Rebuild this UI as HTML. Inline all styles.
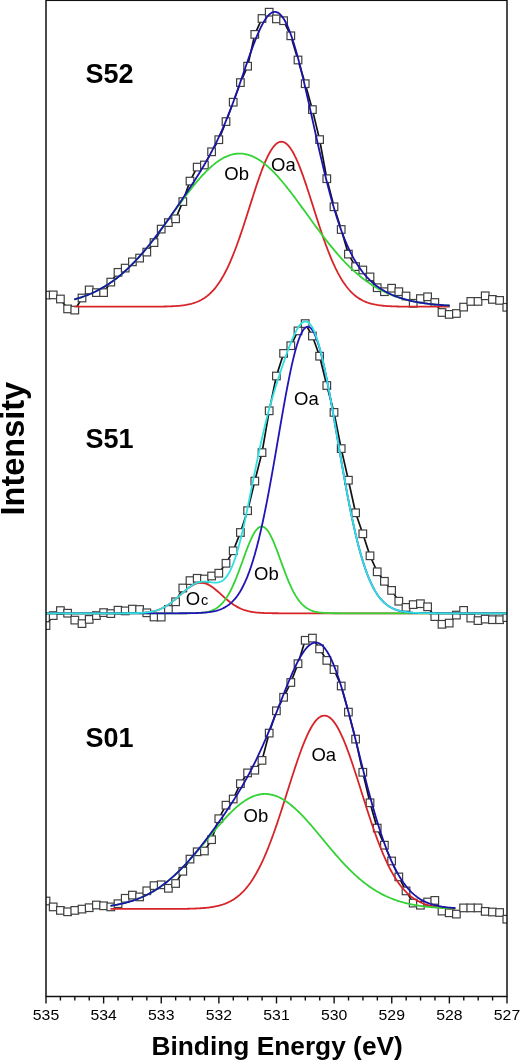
<!DOCTYPE html>
<html><head><meta charset="utf-8"><style>
html,body{margin:0;padding:0;background:#fff;}
svg{display:block;}
.tl{font-family:"Liberation Sans",Arial,sans-serif;font-size:15.2px;fill:#000;}
.lab{font-family:"Liberation Sans",Arial,sans-serif;font-size:18.5px;fill:#000;}
.big{font-family:"Liberation Sans",Arial,sans-serif;font-size:27px;font-weight:bold;fill:#000;}
.ttl{font-family:"Liberation Sans",Arial,sans-serif;font-size:26.3px;font-weight:bold;fill:#000;}
.ttl2{font-family:"Liberation Sans",Arial,sans-serif;font-size:32.5px;font-weight:bold;fill:#000;}
</style></head><body>
<svg width="520" height="1061" viewBox="0 0 520 1061">
<rect width="520" height="1061" fill="#fff"/>
<defs><clipPath id="pc"><rect x="46" y="0" width="461" height="996.5"/></clipPath></defs>
<g clip-path="url(#pc)">
<path d="M46.00,295.10 L53.20,294.90 L60.40,299.00 L67.60,308.90 L74.80,310.10 L82.00,298.00 L89.20,289.90 L96.40,292.60 L103.60,292.60 L110.80,282.10 L118.00,272.35 L125.20,268.10 L132.40,261.85 L139.60,258.10 L146.80,252.10 L154.00,242.60 L161.20,229.10 L168.40,222.60 L175.60,218.80 L182.80,201.60 L190.00,181.10 L197.20,167.10 L204.40,165.00 L211.60,151.80 L218.80,139.70 L226.00,121.60 L233.20,102.20 L240.40,82.60 L247.60,66.20 L254.80,34.40 L262.00,18.50 L269.20,12.20 L276.40,18.90 L283.60,20.70 L290.80,35.80 L298.00,60.00 L305.20,83.70 L312.40,109.60 L319.60,139.60 L326.80,178.70 L334.00,206.80 L341.20,229.50 L348.40,254.10 L355.60,266.60 L362.80,270.00 L370.00,276.90 L377.20,287.70 L384.40,291.70 L391.60,288.20 L398.80,291.70 L406.00,296.00 L413.20,303.30 L420.40,298.60 L427.60,296.80 L434.80,302.50 L442.00,312.50 L449.20,314.40 L456.40,313.50 L463.60,307.10 L470.80,301.40 L478.00,301.40 L485.20,295.80 L492.40,299.40 L499.60,300.40 L506.80,307.30" fill="none" stroke="#111" stroke-width="1.7"/>
<rect x="42.20" y="291.30" width="7.6" height="7.6" fill="#fff" stroke="#404040" stroke-width="1.2"/>
<rect x="49.40" y="291.10" width="7.6" height="7.6" fill="#fff" stroke="#404040" stroke-width="1.2"/>
<rect x="56.60" y="295.20" width="7.6" height="7.6" fill="#fff" stroke="#404040" stroke-width="1.2"/>
<rect x="63.80" y="305.10" width="7.6" height="7.6" fill="#fff" stroke="#404040" stroke-width="1.2"/>
<rect x="71.00" y="306.30" width="7.6" height="7.6" fill="#fff" stroke="#404040" stroke-width="1.2"/>
<rect x="78.20" y="294.20" width="7.6" height="7.6" fill="#fff" stroke="#404040" stroke-width="1.2"/>
<rect x="85.40" y="286.10" width="7.6" height="7.6" fill="#fff" stroke="#404040" stroke-width="1.2"/>
<rect x="92.60" y="288.80" width="7.6" height="7.6" fill="#fff" stroke="#404040" stroke-width="1.2"/>
<rect x="99.80" y="288.80" width="7.6" height="7.6" fill="#fff" stroke="#404040" stroke-width="1.2"/>
<rect x="107.00" y="278.30" width="7.6" height="7.6" fill="#fff" stroke="#404040" stroke-width="1.2"/>
<rect x="114.20" y="268.55" width="7.6" height="7.6" fill="#fff" stroke="#404040" stroke-width="1.2"/>
<rect x="121.40" y="264.30" width="7.6" height="7.6" fill="#fff" stroke="#404040" stroke-width="1.2"/>
<rect x="128.60" y="258.05" width="7.6" height="7.6" fill="#fff" stroke="#404040" stroke-width="1.2"/>
<rect x="135.80" y="254.30" width="7.6" height="7.6" fill="#fff" stroke="#404040" stroke-width="1.2"/>
<rect x="143.00" y="248.30" width="7.6" height="7.6" fill="#fff" stroke="#404040" stroke-width="1.2"/>
<rect x="150.20" y="238.80" width="7.6" height="7.6" fill="#fff" stroke="#404040" stroke-width="1.2"/>
<rect x="157.40" y="225.30" width="7.6" height="7.6" fill="#fff" stroke="#404040" stroke-width="1.2"/>
<rect x="164.60" y="218.80" width="7.6" height="7.6" fill="#fff" stroke="#404040" stroke-width="1.2"/>
<rect x="171.80" y="215.00" width="7.6" height="7.6" fill="#fff" stroke="#404040" stroke-width="1.2"/>
<rect x="179.00" y="197.80" width="7.6" height="7.6" fill="#fff" stroke="#404040" stroke-width="1.2"/>
<rect x="186.20" y="177.30" width="7.6" height="7.6" fill="#fff" stroke="#404040" stroke-width="1.2"/>
<rect x="193.40" y="163.30" width="7.6" height="7.6" fill="#fff" stroke="#404040" stroke-width="1.2"/>
<rect x="200.60" y="161.20" width="7.6" height="7.6" fill="#fff" stroke="#404040" stroke-width="1.2"/>
<rect x="207.80" y="148.00" width="7.6" height="7.6" fill="#fff" stroke="#404040" stroke-width="1.2"/>
<rect x="215.00" y="135.90" width="7.6" height="7.6" fill="#fff" stroke="#404040" stroke-width="1.2"/>
<rect x="222.20" y="117.80" width="7.6" height="7.6" fill="#fff" stroke="#404040" stroke-width="1.2"/>
<rect x="229.40" y="98.40" width="7.6" height="7.6" fill="#fff" stroke="#404040" stroke-width="1.2"/>
<rect x="236.60" y="78.80" width="7.6" height="7.6" fill="#fff" stroke="#404040" stroke-width="1.2"/>
<rect x="243.80" y="62.40" width="7.6" height="7.6" fill="#fff" stroke="#404040" stroke-width="1.2"/>
<rect x="251.00" y="30.60" width="7.6" height="7.6" fill="#fff" stroke="#404040" stroke-width="1.2"/>
<rect x="258.20" y="14.70" width="7.6" height="7.6" fill="#fff" stroke="#404040" stroke-width="1.2"/>
<rect x="265.40" y="8.40" width="7.6" height="7.6" fill="#fff" stroke="#404040" stroke-width="1.2"/>
<rect x="272.60" y="15.10" width="7.6" height="7.6" fill="#fff" stroke="#404040" stroke-width="1.2"/>
<rect x="279.80" y="16.90" width="7.6" height="7.6" fill="#fff" stroke="#404040" stroke-width="1.2"/>
<rect x="287.00" y="32.00" width="7.6" height="7.6" fill="#fff" stroke="#404040" stroke-width="1.2"/>
<rect x="294.20" y="56.20" width="7.6" height="7.6" fill="#fff" stroke="#404040" stroke-width="1.2"/>
<rect x="301.40" y="79.90" width="7.6" height="7.6" fill="#fff" stroke="#404040" stroke-width="1.2"/>
<rect x="308.60" y="105.80" width="7.6" height="7.6" fill="#fff" stroke="#404040" stroke-width="1.2"/>
<rect x="315.80" y="135.80" width="7.6" height="7.6" fill="#fff" stroke="#404040" stroke-width="1.2"/>
<rect x="323.00" y="174.90" width="7.6" height="7.6" fill="#fff" stroke="#404040" stroke-width="1.2"/>
<rect x="330.20" y="203.00" width="7.6" height="7.6" fill="#fff" stroke="#404040" stroke-width="1.2"/>
<rect x="337.40" y="225.70" width="7.6" height="7.6" fill="#fff" stroke="#404040" stroke-width="1.2"/>
<rect x="344.60" y="250.30" width="7.6" height="7.6" fill="#fff" stroke="#404040" stroke-width="1.2"/>
<rect x="351.80" y="262.80" width="7.6" height="7.6" fill="#fff" stroke="#404040" stroke-width="1.2"/>
<rect x="359.00" y="266.20" width="7.6" height="7.6" fill="#fff" stroke="#404040" stroke-width="1.2"/>
<rect x="366.20" y="273.10" width="7.6" height="7.6" fill="#fff" stroke="#404040" stroke-width="1.2"/>
<rect x="373.40" y="283.90" width="7.6" height="7.6" fill="#fff" stroke="#404040" stroke-width="1.2"/>
<rect x="380.60" y="287.90" width="7.6" height="7.6" fill="#fff" stroke="#404040" stroke-width="1.2"/>
<rect x="387.80" y="284.40" width="7.6" height="7.6" fill="#fff" stroke="#404040" stroke-width="1.2"/>
<rect x="395.00" y="287.90" width="7.6" height="7.6" fill="#fff" stroke="#404040" stroke-width="1.2"/>
<rect x="402.20" y="292.20" width="7.6" height="7.6" fill="#fff" stroke="#404040" stroke-width="1.2"/>
<rect x="409.40" y="299.50" width="7.6" height="7.6" fill="#fff" stroke="#404040" stroke-width="1.2"/>
<rect x="416.60" y="294.80" width="7.6" height="7.6" fill="#fff" stroke="#404040" stroke-width="1.2"/>
<rect x="423.80" y="293.00" width="7.6" height="7.6" fill="#fff" stroke="#404040" stroke-width="1.2"/>
<rect x="431.00" y="298.70" width="7.6" height="7.6" fill="#fff" stroke="#404040" stroke-width="1.2"/>
<rect x="438.20" y="308.70" width="7.6" height="7.6" fill="#fff" stroke="#404040" stroke-width="1.2"/>
<rect x="445.40" y="310.60" width="7.6" height="7.6" fill="#fff" stroke="#404040" stroke-width="1.2"/>
<rect x="452.60" y="309.70" width="7.6" height="7.6" fill="#fff" stroke="#404040" stroke-width="1.2"/>
<rect x="459.80" y="303.30" width="7.6" height="7.6" fill="#fff" stroke="#404040" stroke-width="1.2"/>
<rect x="467.00" y="297.60" width="7.6" height="7.6" fill="#fff" stroke="#404040" stroke-width="1.2"/>
<rect x="474.20" y="297.60" width="7.6" height="7.6" fill="#fff" stroke="#404040" stroke-width="1.2"/>
<rect x="481.40" y="292.00" width="7.6" height="7.6" fill="#fff" stroke="#404040" stroke-width="1.2"/>
<rect x="488.60" y="295.60" width="7.6" height="7.6" fill="#fff" stroke="#404040" stroke-width="1.2"/>
<rect x="495.80" y="296.60" width="7.6" height="7.6" fill="#fff" stroke="#404040" stroke-width="1.2"/>
<rect x="503.00" y="303.50" width="7.6" height="7.6" fill="#fff" stroke="#404040" stroke-width="1.2"/>
<path d="M74.25,306.70 L75.51,306.70 L76.76,306.70 L78.02,306.70 L79.27,306.70 L80.53,306.70 L81.79,306.70 L83.04,306.70 L84.30,306.70 L85.55,306.70 L86.81,306.70 L88.07,306.70 L89.32,306.70 L90.58,306.70 L91.83,306.70 L93.09,306.70 L94.35,306.70 L95.60,306.70 L96.86,306.70 L98.11,306.70 L99.37,306.70 L100.63,306.70 L101.88,306.70 L103.14,306.70 L104.39,306.70 L105.65,306.70 L106.91,306.70 L108.16,306.70 L109.42,306.70 L110.67,306.70 L111.93,306.70 L113.19,306.70 L114.44,306.70 L115.70,306.70 L116.95,306.70 L118.21,306.70 L119.47,306.70 L120.72,306.70 L121.98,306.70 L123.23,306.70 L124.49,306.70 L125.75,306.70 L127.00,306.70 L128.26,306.70 L129.51,306.70 L130.77,306.70 L132.03,306.70 L133.28,306.70 L134.54,306.70 L135.79,306.70 L137.05,306.69 L138.31,306.69 L139.56,306.69 L140.82,306.69 L142.08,306.69 L143.33,306.69 L144.59,306.68 L145.84,306.68 L147.10,306.68 L148.36,306.67 L149.61,306.67 L150.87,306.67 L152.12,306.66 L153.38,306.65 L154.64,306.64 L155.89,306.63 L157.15,306.62 L158.40,306.61 L159.66,306.60 L160.92,306.58 L162.17,306.56 L163.43,306.54 L164.68,306.51 L165.94,306.48 L167.20,306.45 L168.45,306.41 L169.71,306.36 L170.96,306.31 L172.22,306.26 L173.48,306.19 L174.73,306.12 L175.99,306.04 L177.24,305.95 L178.50,305.84 L179.76,305.73 L181.01,305.59 L182.27,305.45 L183.52,305.28 L184.78,305.10 L186.04,304.90 L187.29,304.67 L188.55,304.42 L189.80,304.14 L191.06,303.84 L192.32,303.50 L193.57,303.12 L194.83,302.71 L196.08,302.26 L197.34,301.77 L198.60,301.23 L199.85,300.64 L201.11,299.99 L202.36,299.29 L203.62,298.53 L204.88,297.70 L206.13,296.81 L207.39,295.84 L208.64,294.80 L209.90,293.68 L211.16,292.48 L212.41,291.19 L213.67,289.81 L214.92,288.33 L216.18,286.76 L217.44,285.08 L218.69,283.31 L219.95,281.42 L221.20,279.43 L222.46,277.33 L223.72,275.11 L224.97,272.78 L226.23,270.33 L227.48,267.77 L228.74,265.09 L230.00,262.30 L231.25,259.40 L232.51,256.38 L233.76,253.26 L235.02,250.03 L236.28,246.70 L237.53,243.28 L238.79,239.76 L240.04,236.16 L241.30,232.48 L242.56,228.74 L243.81,224.93 L245.07,221.07 L246.32,217.17 L247.58,213.23 L248.84,209.28 L250.09,205.32 L251.35,201.36 L252.60,197.42 L253.86,193.51 L255.12,189.65 L256.37,185.84 L257.63,182.10 L258.88,178.45 L260.14,174.90 L261.40,171.46 L262.65,168.15 L263.91,164.98 L265.17,161.97 L266.42,159.12 L267.68,156.45 L268.93,153.98 L270.19,151.70 L271.45,149.64 L272.70,147.80 L273.96,146.19 L275.21,144.82 L276.47,143.69 L277.73,142.81 L278.98,142.18 L280.24,141.81 L281.49,141.70 L282.75,141.85 L284.01,142.25 L285.26,142.91 L286.52,143.82 L287.77,144.98 L289.03,146.39 L290.29,148.03 L291.54,149.90 L292.80,151.99 L294.05,154.29 L295.31,156.80 L296.57,159.49 L297.82,162.36 L299.08,165.39 L300.33,168.58 L301.59,171.91 L302.85,175.36 L304.10,178.93 L305.36,182.59 L306.61,186.34 L307.87,190.16 L309.13,194.03 L310.38,197.95 L311.64,201.89 L312.89,205.85 L314.15,209.81 L315.41,213.76 L316.66,217.69 L317.92,221.58 L319.17,225.44 L320.43,229.24 L321.69,232.98 L322.94,236.64 L324.20,240.23 L325.45,243.74 L326.71,247.15 L327.97,250.47 L329.22,253.68 L330.48,256.79 L331.73,259.79 L332.99,262.68 L334.25,265.45 L335.50,268.12 L336.76,270.66 L338.01,273.09 L339.27,275.41 L340.53,277.61 L341.78,279.70 L343.04,281.68 L344.29,283.55 L345.55,285.31 L346.81,286.97 L348.06,288.53 L349.32,289.99 L350.57,291.36 L351.83,292.64 L353.09,293.83 L354.34,294.94 L355.60,295.98 L356.85,296.93 L358.11,297.82 L359.37,298.63 L360.62,299.39 L361.88,300.08 L363.13,300.72 L364.39,301.30 L365.65,301.84 L366.90,302.32 L368.16,302.77 L369.41,303.18 L370.67,303.54 L371.93,303.88 L373.18,304.18 L374.44,304.46 L375.69,304.70 L376.95,304.93 L378.21,305.13 L379.46,305.31 L380.72,305.47 L381.97,305.61 L383.23,305.74 L384.49,305.86 L385.74,305.96 L387.00,306.05 L388.26,306.13 L389.51,306.20 L390.77,306.27 L392.02,306.32 L393.28,306.37 L394.54,306.41 L395.79,306.45 L397.05,306.48 L398.30,306.51 L399.56,306.54 L400.82,306.56 L402.07,306.58 L403.33,306.60 L404.58,306.61 L405.84,306.62 L407.10,306.64 L408.35,306.64 L409.61,306.65 L410.86,306.66 L412.12,306.67 L413.38,306.67 L414.63,306.68 L415.89,306.68 L417.14,306.68 L418.40,306.69 L419.66,306.69 L420.91,306.69 L422.17,306.69 L423.42,306.69 L424.68,306.69 L425.94,306.69 L427.19,306.70 L428.45,306.70 L429.70,306.70 L430.96,306.70 L432.22,306.70 L433.47,306.70 L434.73,306.70 L435.98,306.70 L437.24,306.70 L438.50,306.70 L439.75,306.70 L441.01,306.70 L442.26,306.70 L443.52,306.70 L444.78,306.70 L446.03,306.70 L447.29,306.70 L448.54,306.70 L449.80,306.70" fill="none" stroke="#d62428" stroke-width="1.8" stroke-linejoin="round" stroke-linecap="butt" />
<path d="M74.25,299.38 L75.51,299.04 L76.76,298.68 L78.02,298.31 L79.27,297.92 L80.53,297.52 L81.79,297.10 L83.04,296.67 L84.30,296.23 L85.55,295.76 L86.81,295.29 L88.07,294.79 L89.32,294.28 L90.58,293.75 L91.83,293.20 L93.09,292.63 L94.35,292.05 L95.60,291.44 L96.86,290.82 L98.11,290.17 L99.37,289.51 L100.63,288.83 L101.88,288.12 L103.14,287.40 L104.39,286.65 L105.65,285.88 L106.91,285.09 L108.16,284.28 L109.42,283.45 L110.67,282.59 L111.93,281.71 L113.19,280.81 L114.44,279.88 L115.70,278.93 L116.95,277.96 L118.21,276.96 L119.47,275.94 L120.72,274.89 L121.98,273.83 L123.23,272.73 L124.49,271.62 L125.75,270.48 L127.00,269.31 L128.26,268.12 L129.51,266.91 L130.77,265.68 L132.03,264.42 L133.28,263.13 L134.54,261.83 L135.79,260.50 L137.05,259.15 L138.31,257.78 L139.56,256.38 L140.82,254.96 L142.08,253.52 L143.33,252.06 L144.59,250.59 L145.84,249.09 L147.10,247.57 L148.36,246.03 L149.61,244.47 L150.87,242.90 L152.12,241.31 L153.38,239.70 L154.64,238.08 L155.89,236.45 L157.15,234.80 L158.40,233.13 L159.66,231.46 L160.92,229.77 L162.17,228.08 L163.43,226.37 L164.68,224.66 L165.94,222.94 L167.20,221.21 L168.45,219.48 L169.71,217.74 L170.96,216.01 L172.22,214.27 L173.48,212.53 L174.73,210.79 L175.99,209.05 L177.24,207.32 L178.50,205.59 L179.76,203.86 L181.01,202.15 L182.27,200.44 L183.52,198.75 L184.78,197.06 L186.04,195.39 L187.29,193.73 L188.55,192.09 L189.80,190.46 L191.06,188.85 L192.32,187.27 L193.57,185.70 L194.83,184.15 L196.08,182.63 L197.34,181.14 L198.60,179.67 L199.85,178.23 L201.11,176.82 L202.36,175.44 L203.62,174.09 L204.88,172.77 L206.13,171.49 L207.39,170.24 L208.64,169.04 L209.90,167.86 L211.16,166.73 L212.41,165.64 L213.67,164.59 L214.92,163.58 L216.18,162.62 L217.44,161.70 L218.69,160.83 L219.95,160.00 L221.20,159.22 L222.46,158.48 L223.72,157.80 L224.97,157.16 L226.23,156.58 L227.48,156.04 L228.74,155.56 L230.00,155.13 L231.25,154.75 L232.51,154.42 L233.76,154.15 L235.02,153.92 L236.28,153.76 L237.53,153.64 L238.79,153.58 L240.04,153.57 L241.30,153.62 L242.56,153.72 L243.81,153.87 L245.07,154.08 L246.32,154.34 L247.58,154.66 L248.84,155.02 L250.09,155.44 L251.35,155.91 L252.60,156.43 L253.86,157.01 L255.12,157.63 L256.37,158.30 L257.63,159.02 L258.88,159.79 L260.14,160.61 L261.40,161.47 L262.65,162.38 L263.91,163.33 L265.17,164.33 L266.42,165.36 L267.68,166.45 L268.93,167.57 L270.19,168.73 L271.45,169.93 L272.70,171.16 L273.96,172.44 L275.21,173.74 L276.47,175.08 L277.73,176.46 L278.98,177.86 L280.24,179.29 L281.49,180.75 L282.75,182.24 L284.01,183.76 L285.26,185.30 L286.52,186.86 L287.77,188.44 L289.03,190.04 L290.29,191.66 L291.54,193.30 L292.80,194.96 L294.05,196.62 L295.31,198.31 L296.57,200.00 L297.82,201.70 L299.08,203.42 L300.33,205.14 L301.59,206.87 L302.85,208.60 L304.10,210.33 L305.36,212.07 L306.61,213.81 L307.87,215.55 L309.13,217.29 L310.38,219.03 L311.64,220.76 L312.89,222.49 L314.15,224.21 L315.41,225.93 L316.66,227.63 L317.92,229.33 L319.17,231.02 L320.43,232.70 L321.69,234.37 L322.94,236.02 L324.20,237.66 L325.45,239.28 L326.71,240.89 L327.97,242.49 L329.22,244.07 L330.48,245.63 L331.73,247.17 L332.99,248.69 L334.25,250.20 L335.50,251.68 L336.76,253.15 L338.01,254.59 L339.27,256.01 L340.53,257.41 L341.78,258.79 L343.04,260.15 L344.29,261.49 L345.55,262.80 L346.81,264.09 L348.06,265.35 L349.32,266.59 L350.57,267.81 L351.83,269.01 L353.09,270.18 L354.34,271.32 L355.60,272.45 L356.85,273.54 L358.11,274.62 L359.37,275.67 L360.62,276.70 L361.88,277.70 L363.13,278.68 L364.39,279.63 L365.65,280.57 L366.90,281.48 L368.16,282.36 L369.41,283.23 L370.67,284.07 L371.93,284.88 L373.18,285.68 L374.44,286.45 L375.69,287.21 L376.95,287.94 L378.21,288.65 L379.46,289.34 L380.72,290.00 L381.97,290.65 L383.23,291.28 L384.49,291.89 L385.74,292.48 L387.00,293.05 L388.26,293.61 L389.51,294.14 L390.77,294.66 L392.02,295.16 L393.28,295.64 L394.54,296.11 L395.79,296.56 L397.05,296.99 L398.30,297.41 L399.56,297.82 L400.82,298.21 L402.07,298.58 L403.33,298.95 L404.58,299.29 L405.84,299.63 L407.10,299.95 L408.35,300.26 L409.61,300.56 L410.86,300.84 L412.12,301.12 L413.38,301.38 L414.63,301.64 L415.89,301.88 L417.14,302.11 L418.40,302.33 L419.66,302.55 L420.91,302.75 L422.17,302.95 L423.42,303.13 L424.68,303.31 L425.94,303.49 L427.19,303.65 L428.45,303.81 L429.70,303.95 L430.96,304.10 L432.22,304.23 L433.47,304.36 L434.73,304.49 L435.98,304.60 L437.24,304.72 L438.50,304.82 L439.75,304.93 L441.01,305.02 L442.26,305.11 L443.52,305.20 L444.78,305.29 L446.03,305.36 L447.29,305.44 L448.54,305.51 L449.80,305.58" fill="none" stroke="#34d234" stroke-width="1.8" stroke-linejoin="round" stroke-linecap="butt" />
<path d="M74.25,299.38 L75.51,299.04 L76.76,298.68 L78.02,298.31 L79.27,297.92 L80.53,297.52 L81.79,297.10 L83.04,296.67 L84.30,296.23 L85.55,295.76 L86.81,295.29 L88.07,294.79 L89.32,294.28 L90.58,293.75 L91.83,293.20 L93.09,292.63 L94.35,292.05 L95.60,291.44 L96.86,290.82 L98.11,290.17 L99.37,289.51 L100.63,288.83 L101.88,288.12 L103.14,287.40 L104.39,286.65 L105.65,285.88 L106.91,285.09 L108.16,284.28 L109.42,283.45 L110.67,282.59 L111.93,281.71 L113.19,280.81 L114.44,279.88 L115.70,278.93 L116.95,277.96 L118.21,276.96 L119.47,275.94 L120.72,274.89 L121.98,273.83 L123.23,272.73 L124.49,271.62 L125.75,270.48 L127.00,269.31 L128.26,268.12 L129.51,266.91 L130.77,265.67 L132.03,264.41 L133.28,263.13 L134.54,261.83 L135.79,260.50 L137.05,259.14 L138.31,257.77 L139.56,256.37 L140.82,254.95 L142.08,253.51 L143.33,252.05 L144.59,250.57 L145.84,249.07 L147.10,247.55 L148.36,246.00 L149.61,244.44 L150.87,242.87 L152.12,241.27 L153.38,239.66 L154.64,238.03 L155.89,236.38 L157.15,234.72 L158.40,233.04 L159.66,231.35 L160.92,229.65 L162.17,227.94 L163.43,226.21 L164.68,224.47 L165.94,222.72 L167.20,220.96 L168.45,219.19 L169.71,217.41 L170.96,215.62 L172.22,213.82 L173.48,212.02 L174.73,210.21 L175.99,208.39 L177.24,206.56 L178.50,204.73 L179.76,202.89 L181.01,201.04 L182.27,199.19 L183.52,197.33 L184.78,195.46 L186.04,193.59 L187.29,191.70 L188.55,189.81 L189.80,187.91 L191.06,185.99 L192.32,184.06 L193.57,182.12 L194.83,180.17 L196.08,178.20 L197.34,176.21 L198.60,174.20 L199.85,172.16 L201.11,170.11 L202.36,168.03 L203.62,165.92 L204.88,163.77 L206.13,161.60 L207.39,159.39 L208.64,157.14 L209.90,154.85 L211.16,152.51 L212.41,150.13 L213.67,147.70 L214.92,145.21 L216.18,142.68 L217.44,140.08 L218.69,137.43 L219.95,134.72 L221.20,131.94 L222.46,129.11 L223.72,126.21 L224.97,123.24 L226.23,120.21 L227.48,117.11 L228.74,113.95 L230.00,110.73 L231.25,107.45 L232.51,104.10 L233.76,100.71 L235.02,97.26 L236.28,93.76 L237.53,90.22 L238.79,86.64 L240.04,83.03 L241.30,79.40 L242.56,75.76 L243.81,72.10 L245.07,68.45 L246.32,64.81 L247.58,61.19 L248.84,57.60 L250.09,54.06 L251.35,50.58 L252.60,47.16 L253.86,43.82 L255.12,40.58 L256.37,37.44 L257.63,34.42 L258.88,31.54 L260.14,28.81 L261.40,26.23 L262.65,23.83 L263.91,21.61 L265.17,19.59 L266.42,17.78 L267.68,16.20 L268.93,14.84 L270.19,13.73 L271.45,12.87 L272.70,12.26 L273.96,11.92 L275.21,11.86 L276.47,12.07 L277.73,12.56 L278.98,13.34 L280.24,14.41 L281.49,15.75 L282.75,17.39 L284.01,19.31 L285.26,21.51 L286.52,23.98 L287.77,26.72 L289.03,29.73 L290.29,32.99 L291.54,36.50 L292.80,40.25 L294.05,44.22 L295.31,48.40 L296.57,52.79 L297.82,57.36 L299.08,62.11 L300.33,67.02 L301.59,72.08 L302.85,77.26 L304.10,82.57 L305.36,87.97 L306.61,93.45 L307.87,99.01 L309.13,104.62 L310.38,110.27 L311.64,115.95 L312.89,121.64 L314.15,127.32 L315.41,132.98 L316.66,138.62 L317.92,144.22 L319.17,149.76 L320.43,155.24 L321.69,160.64 L322.94,165.96 L324.20,171.19 L325.45,176.32 L326.71,181.34 L327.97,186.25 L329.22,191.05 L330.48,195.72 L331.73,200.26 L332.99,204.67 L334.25,208.95 L335.50,213.10 L336.76,217.11 L338.01,220.98 L339.27,224.72 L340.53,228.33 L341.78,231.79 L343.04,235.13 L344.29,238.33 L345.55,241.41 L346.81,244.36 L348.06,247.18 L349.32,249.89 L350.57,252.47 L351.83,254.95 L353.09,257.31 L354.34,259.57 L355.60,261.72 L356.85,263.78 L358.11,265.73 L359.37,267.60 L360.62,269.38 L361.88,271.08 L363.13,272.70 L364.39,274.24 L365.65,275.70 L366.90,277.10 L368.16,278.43 L369.41,279.70 L370.67,280.91 L371.93,282.06 L373.18,283.16 L374.44,284.21 L375.69,285.21 L376.95,286.16 L378.21,287.07 L379.46,287.94 L380.72,288.77 L381.97,289.57 L383.23,290.32 L384.49,291.05 L385.74,291.74 L387.00,292.40 L388.26,293.04 L389.51,293.64 L390.77,294.22 L392.02,294.78 L393.28,295.31 L394.54,295.82 L395.79,296.31 L397.05,296.78 L398.30,297.23 L399.56,297.66 L400.82,298.07 L402.07,298.46 L403.33,298.84 L404.58,299.21 L405.84,299.55 L407.10,299.89 L408.35,300.21 L409.61,300.51 L410.86,300.80 L412.12,301.08 L413.38,301.35 L414.63,301.61 L415.89,301.86 L417.14,302.09 L418.40,302.32 L419.66,302.53 L420.91,302.74 L422.17,302.94 L423.42,303.13 L424.68,303.31 L425.94,303.48 L427.19,303.64 L428.45,303.80 L429.70,303.95 L430.96,304.09 L432.22,304.23 L433.47,304.36 L434.73,304.49 L435.98,304.60 L437.24,304.72 L438.50,304.82 L439.75,304.92 L441.01,305.02 L442.26,305.11 L443.52,305.20 L444.78,305.28 L446.03,305.36 L447.29,305.44 L448.54,305.51 L449.80,305.58" fill="none" stroke="#1c14a8" stroke-width="1.8" stroke-linejoin="round" stroke-linecap="butt" />
<path d="M46.00,625.60 L53.20,615.60 L60.40,610.60 L67.60,613.20 L74.80,620.10 L82.00,623.60 L89.20,619.40 L96.40,615.60 L103.60,612.60 L110.80,613.60 L118.00,610.20 L125.20,610.90 L132.40,609.10 L139.60,609.50 L146.80,612.80 L154.00,617.00 L161.20,617.10 L168.40,609.40 L175.60,601.80 L182.80,588.00 L190.00,580.60 L197.20,578.30 L204.40,579.00 L211.60,576.00 L218.80,573.20 L226.00,563.30 L233.20,550.80 L240.40,532.50 L247.60,510.70 L254.80,481.10 L262.00,452.60 L269.20,410.80 L276.40,376.00 L283.60,353.40 L290.80,345.70 L298.00,330.90 L305.20,323.60 L312.40,336.00 L319.60,356.20 L326.80,385.50 L334.00,412.40 L341.20,448.60 L348.40,480.20 L355.60,512.80 L362.80,533.80 L370.00,555.80 L377.20,571.80 L384.40,581.30 L391.60,590.40 L398.80,601.20 L406.00,607.40 L413.20,604.60 L420.40,603.70 L427.60,606.80 L434.80,616.60 L442.00,624.30 L449.20,623.10 L456.40,615.10 L463.60,610.40 L470.80,618.10 L478.00,620.60 L485.20,619.10 L492.40,619.70 L499.60,619.70 L506.80,617.60" fill="none" stroke="#111" stroke-width="1.7"/>
<rect x="42.20" y="621.80" width="7.6" height="7.6" fill="#fff" stroke="#404040" stroke-width="1.2"/>
<rect x="49.40" y="611.80" width="7.6" height="7.6" fill="#fff" stroke="#404040" stroke-width="1.2"/>
<rect x="56.60" y="606.80" width="7.6" height="7.6" fill="#fff" stroke="#404040" stroke-width="1.2"/>
<rect x="63.80" y="609.40" width="7.6" height="7.6" fill="#fff" stroke="#404040" stroke-width="1.2"/>
<rect x="71.00" y="616.30" width="7.6" height="7.6" fill="#fff" stroke="#404040" stroke-width="1.2"/>
<rect x="78.20" y="619.80" width="7.6" height="7.6" fill="#fff" stroke="#404040" stroke-width="1.2"/>
<rect x="85.40" y="615.60" width="7.6" height="7.6" fill="#fff" stroke="#404040" stroke-width="1.2"/>
<rect x="92.60" y="611.80" width="7.6" height="7.6" fill="#fff" stroke="#404040" stroke-width="1.2"/>
<rect x="99.80" y="608.80" width="7.6" height="7.6" fill="#fff" stroke="#404040" stroke-width="1.2"/>
<rect x="107.00" y="609.80" width="7.6" height="7.6" fill="#fff" stroke="#404040" stroke-width="1.2"/>
<rect x="114.20" y="606.40" width="7.6" height="7.6" fill="#fff" stroke="#404040" stroke-width="1.2"/>
<rect x="121.40" y="607.10" width="7.6" height="7.6" fill="#fff" stroke="#404040" stroke-width="1.2"/>
<rect x="128.60" y="605.30" width="7.6" height="7.6" fill="#fff" stroke="#404040" stroke-width="1.2"/>
<rect x="135.80" y="605.70" width="7.6" height="7.6" fill="#fff" stroke="#404040" stroke-width="1.2"/>
<rect x="143.00" y="609.00" width="7.6" height="7.6" fill="#fff" stroke="#404040" stroke-width="1.2"/>
<rect x="150.20" y="613.20" width="7.6" height="7.6" fill="#fff" stroke="#404040" stroke-width="1.2"/>
<rect x="157.40" y="613.30" width="7.6" height="7.6" fill="#fff" stroke="#404040" stroke-width="1.2"/>
<rect x="164.60" y="605.60" width="7.6" height="7.6" fill="#fff" stroke="#404040" stroke-width="1.2"/>
<rect x="171.80" y="598.00" width="7.6" height="7.6" fill="#fff" stroke="#404040" stroke-width="1.2"/>
<rect x="179.00" y="584.20" width="7.6" height="7.6" fill="#fff" stroke="#404040" stroke-width="1.2"/>
<rect x="186.20" y="576.80" width="7.6" height="7.6" fill="#fff" stroke="#404040" stroke-width="1.2"/>
<rect x="193.40" y="574.50" width="7.6" height="7.6" fill="#fff" stroke="#404040" stroke-width="1.2"/>
<rect x="200.60" y="575.20" width="7.6" height="7.6" fill="#fff" stroke="#404040" stroke-width="1.2"/>
<rect x="207.80" y="572.20" width="7.6" height="7.6" fill="#fff" stroke="#404040" stroke-width="1.2"/>
<rect x="215.00" y="569.40" width="7.6" height="7.6" fill="#fff" stroke="#404040" stroke-width="1.2"/>
<rect x="222.20" y="559.50" width="7.6" height="7.6" fill="#fff" stroke="#404040" stroke-width="1.2"/>
<rect x="229.40" y="547.00" width="7.6" height="7.6" fill="#fff" stroke="#404040" stroke-width="1.2"/>
<rect x="236.60" y="528.70" width="7.6" height="7.6" fill="#fff" stroke="#404040" stroke-width="1.2"/>
<rect x="243.80" y="506.90" width="7.6" height="7.6" fill="#fff" stroke="#404040" stroke-width="1.2"/>
<rect x="251.00" y="477.30" width="7.6" height="7.6" fill="#fff" stroke="#404040" stroke-width="1.2"/>
<rect x="258.20" y="448.80" width="7.6" height="7.6" fill="#fff" stroke="#404040" stroke-width="1.2"/>
<rect x="265.40" y="407.00" width="7.6" height="7.6" fill="#fff" stroke="#404040" stroke-width="1.2"/>
<rect x="272.60" y="372.20" width="7.6" height="7.6" fill="#fff" stroke="#404040" stroke-width="1.2"/>
<rect x="279.80" y="349.60" width="7.6" height="7.6" fill="#fff" stroke="#404040" stroke-width="1.2"/>
<rect x="287.00" y="341.90" width="7.6" height="7.6" fill="#fff" stroke="#404040" stroke-width="1.2"/>
<rect x="294.20" y="327.10" width="7.6" height="7.6" fill="#fff" stroke="#404040" stroke-width="1.2"/>
<rect x="301.40" y="319.80" width="7.6" height="7.6" fill="#fff" stroke="#404040" stroke-width="1.2"/>
<rect x="308.60" y="332.20" width="7.6" height="7.6" fill="#fff" stroke="#404040" stroke-width="1.2"/>
<rect x="315.80" y="352.40" width="7.6" height="7.6" fill="#fff" stroke="#404040" stroke-width="1.2"/>
<rect x="323.00" y="381.70" width="7.6" height="7.6" fill="#fff" stroke="#404040" stroke-width="1.2"/>
<rect x="330.20" y="408.60" width="7.6" height="7.6" fill="#fff" stroke="#404040" stroke-width="1.2"/>
<rect x="337.40" y="444.80" width="7.6" height="7.6" fill="#fff" stroke="#404040" stroke-width="1.2"/>
<rect x="344.60" y="476.40" width="7.6" height="7.6" fill="#fff" stroke="#404040" stroke-width="1.2"/>
<rect x="351.80" y="509.00" width="7.6" height="7.6" fill="#fff" stroke="#404040" stroke-width="1.2"/>
<rect x="359.00" y="530.00" width="7.6" height="7.6" fill="#fff" stroke="#404040" stroke-width="1.2"/>
<rect x="366.20" y="552.00" width="7.6" height="7.6" fill="#fff" stroke="#404040" stroke-width="1.2"/>
<rect x="373.40" y="568.00" width="7.6" height="7.6" fill="#fff" stroke="#404040" stroke-width="1.2"/>
<rect x="380.60" y="577.50" width="7.6" height="7.6" fill="#fff" stroke="#404040" stroke-width="1.2"/>
<rect x="387.80" y="586.60" width="7.6" height="7.6" fill="#fff" stroke="#404040" stroke-width="1.2"/>
<rect x="395.00" y="597.40" width="7.6" height="7.6" fill="#fff" stroke="#404040" stroke-width="1.2"/>
<rect x="402.20" y="603.60" width="7.6" height="7.6" fill="#fff" stroke="#404040" stroke-width="1.2"/>
<rect x="409.40" y="600.80" width="7.6" height="7.6" fill="#fff" stroke="#404040" stroke-width="1.2"/>
<rect x="416.60" y="599.90" width="7.6" height="7.6" fill="#fff" stroke="#404040" stroke-width="1.2"/>
<rect x="423.80" y="603.00" width="7.6" height="7.6" fill="#fff" stroke="#404040" stroke-width="1.2"/>
<rect x="431.00" y="612.80" width="7.6" height="7.6" fill="#fff" stroke="#404040" stroke-width="1.2"/>
<rect x="438.20" y="620.50" width="7.6" height="7.6" fill="#fff" stroke="#404040" stroke-width="1.2"/>
<rect x="445.40" y="619.30" width="7.6" height="7.6" fill="#fff" stroke="#404040" stroke-width="1.2"/>
<rect x="452.60" y="611.30" width="7.6" height="7.6" fill="#fff" stroke="#404040" stroke-width="1.2"/>
<rect x="459.80" y="606.60" width="7.6" height="7.6" fill="#fff" stroke="#404040" stroke-width="1.2"/>
<rect x="467.00" y="614.30" width="7.6" height="7.6" fill="#fff" stroke="#404040" stroke-width="1.2"/>
<rect x="474.20" y="616.80" width="7.6" height="7.6" fill="#fff" stroke="#404040" stroke-width="1.2"/>
<rect x="481.40" y="615.30" width="7.6" height="7.6" fill="#fff" stroke="#404040" stroke-width="1.2"/>
<rect x="488.60" y="615.90" width="7.6" height="7.6" fill="#fff" stroke="#404040" stroke-width="1.2"/>
<rect x="495.80" y="615.90" width="7.6" height="7.6" fill="#fff" stroke="#404040" stroke-width="1.2"/>
<rect x="503.00" y="613.80" width="7.6" height="7.6" fill="#fff" stroke="#404040" stroke-width="1.2"/>
<path d="M46.00,613.30 L46.92,613.30 L47.85,613.30 L48.77,613.30 L49.70,613.30 L50.62,613.30 L51.54,613.30 L52.47,613.30 L53.39,613.30 L54.31,613.30 L55.24,613.30 L56.16,613.30 L57.09,613.30 L58.01,613.30 L58.93,613.30 L59.86,613.30 L60.78,613.30 L61.71,613.30 L62.63,613.30 L63.55,613.30 L64.48,613.30 L65.40,613.30 L66.32,613.30 L67.25,613.30 L68.17,613.30 L69.10,613.30 L70.02,613.30 L70.94,613.30 L71.87,613.30 L72.79,613.30 L73.72,613.30 L74.64,613.30 L75.56,613.30 L76.49,613.30 L77.41,613.30 L78.33,613.30 L79.26,613.30 L80.18,613.30 L81.11,613.30 L82.03,613.30 L82.95,613.30 L83.88,613.30 L84.80,613.30 L85.73,613.30 L86.65,613.30 L87.57,613.30 L88.50,613.30 L89.42,613.30 L90.34,613.30 L91.27,613.30 L92.19,613.30 L93.12,613.30 L94.04,613.30 L94.96,613.30 L95.89,613.30 L96.81,613.30 L97.74,613.30 L98.66,613.30 L99.58,613.30 L100.51,613.30 L101.43,613.30 L102.35,613.30 L103.28,613.30 L104.20,613.30 L105.13,613.30 L106.05,613.30 L106.97,613.30 L107.90,613.30 L108.82,613.30 L109.75,613.30 L110.67,613.30 L111.59,613.30 L112.52,613.30 L113.44,613.30 L114.36,613.30 L115.29,613.30 L116.21,613.29 L117.14,613.29 L118.06,613.29 L118.98,613.29 L119.91,613.29 L120.83,613.29 L121.76,613.28 L122.68,613.28 L123.60,613.28 L124.53,613.27 L125.45,613.27 L126.37,613.26 L127.30,613.25 L128.22,613.24 L129.15,613.23 L130.07,613.22 L130.99,613.21 L131.92,613.20 L132.84,613.18 L133.77,613.16 L134.69,613.14 L135.61,613.11 L136.54,613.08 L137.46,613.05 L138.38,613.01 L139.31,612.97 L140.23,612.92 L141.16,612.87 L142.08,612.81 L143.00,612.74 L143.93,612.67 L144.85,612.58 L145.78,612.49 L146.70,612.39 L147.62,612.27 L148.55,612.14 L149.47,612.00 L150.39,611.85 L151.32,611.68 L152.24,611.50 L153.17,611.30 L154.09,611.08 L155.01,610.84 L155.94,610.58 L156.86,610.30 L157.79,609.99 L158.71,609.67 L159.63,609.32 L160.56,608.94 L161.48,608.54 L162.40,608.12 L163.33,607.66 L164.25,607.18 L165.18,606.67 L166.10,606.14 L167.02,605.58 L167.95,604.99 L168.87,604.37 L169.80,603.72 L170.72,603.05 L171.64,602.36 L172.57,601.64 L173.49,600.90 L174.41,600.14 L175.34,599.37 L176.26,598.57 L177.19,597.77 L178.11,596.95 L179.03,596.12 L179.96,595.29 L180.88,594.46 L181.81,593.62 L182.73,592.80 L183.65,591.98 L184.58,591.17 L185.50,590.38 L186.42,589.61 L187.35,588.87 L188.27,588.15 L189.20,587.46 L190.12,586.81 L191.04,586.19 L191.97,585.62 L192.89,585.09 L193.82,584.62 L194.74,584.19 L195.66,583.82 L196.59,583.50 L197.51,583.24 L198.43,583.04 L199.36,582.90 L200.28,582.82 L201.21,582.80 L202.13,582.85 L203.05,582.95 L203.98,583.12 L204.90,583.35 L205.83,583.63 L206.75,583.98 L207.67,584.37 L208.60,584.82 L209.52,585.32 L210.44,585.87 L211.37,586.46 L212.29,587.09 L213.22,587.76 L214.14,588.46 L215.06,589.20 L215.99,589.95 L216.91,590.73 L217.84,591.53 L218.76,592.34 L219.68,593.17 L220.61,594.00 L221.53,594.83 L222.45,595.66 L223.38,596.49 L224.30,597.31 L225.23,598.13 L226.15,598.93 L227.07,599.72 L228.00,600.49 L228.92,601.24 L229.85,601.97 L230.77,602.67 L231.69,603.36 L232.62,604.02 L233.54,604.65 L234.46,605.25 L235.39,605.83 L236.31,606.38 L237.24,606.91 L238.16,607.40 L239.08,607.87 L240.01,608.31 L240.93,608.73 L241.86,609.11 L242.78,609.48 L243.70,609.82 L244.63,610.13 L245.55,610.42 L246.47,610.70 L247.40,610.95 L248.32,611.18 L249.25,611.39 L250.17,611.58 L251.09,611.76 L252.02,611.92 L252.94,612.07 L253.87,612.20 L254.79,612.32 L255.71,612.43 L256.64,612.53 L257.56,612.62 L258.48,612.70 L259.41,612.77 L260.33,612.84 L261.26,612.89 L262.18,612.94 L263.10,612.99 L264.03,613.03 L264.95,613.07 L265.88,613.10 L266.80,613.12 L267.72,613.15 L268.65,613.17 L269.57,613.19 L270.49,613.20 L271.42,613.22 L272.34,613.23 L273.27,613.24 L274.19,613.25 L275.11,613.26 L276.04,613.26 L276.96,613.27 L277.89,613.27 L278.81,613.28 L279.73,613.28 L280.66,613.28 L281.58,613.29 L282.51,613.29 L283.43,613.29 L284.35,613.29 L285.28,613.29 L286.20,613.29 L287.12,613.30 L288.05,613.30 L288.97,613.30 L289.90,613.30 L290.82,613.30 L291.74,613.30 L292.67,613.30 L293.59,613.30 L294.52,613.30 L295.44,613.30 L296.36,613.30 L297.29,613.30 L298.21,613.30 L299.13,613.30 L300.06,613.30 L300.98,613.30 L301.91,613.30 L302.83,613.30 L303.75,613.30 L304.68,613.30 L305.60,613.30 L306.53,613.30 L307.45,613.30 L308.37,613.30 L309.30,613.30 L310.22,613.30 L311.14,613.30 L312.07,613.30 L312.99,613.30 L313.92,613.30 L314.84,613.30 L315.76,613.30 L316.69,613.30 L317.61,613.30 L318.54,613.30 L319.46,613.30 L320.38,613.30 L321.31,613.30 L322.23,613.30 L323.15,613.30 L324.08,613.30 L325.00,613.30 L325.93,613.30 L326.85,613.30 L327.77,613.30 L328.70,613.30 L329.62,613.30 L330.55,613.30 L331.47,613.30 L332.39,613.30 L333.32,613.30 L334.24,613.30 L335.16,613.30 L336.09,613.30 L337.01,613.30 L337.94,613.30 L338.86,613.30 L339.78,613.30 L340.71,613.30 L341.63,613.30 L342.56,613.30 L343.48,613.30 L344.40,613.30 L345.33,613.30 L346.25,613.30 L347.17,613.30 L348.10,613.30 L349.02,613.30 L349.95,613.30 L350.87,613.30 L351.79,613.30 L352.72,613.30 L353.64,613.30 L354.57,613.30 L355.49,613.30 L356.41,613.30 L357.34,613.30 L358.26,613.30 L359.18,613.30 L360.11,613.30 L361.03,613.30 L361.96,613.30 L362.88,613.30 L363.80,613.30 L364.73,613.30 L365.65,613.30 L366.58,613.30 L367.50,613.30 L368.42,613.30 L369.35,613.30 L370.27,613.30 L371.19,613.30 L372.12,613.30 L373.04,613.30 L373.97,613.30 L374.89,613.30 L375.81,613.30 L376.74,613.30 L377.66,613.30 L378.59,613.30 L379.51,613.30 L380.43,613.30 L381.36,613.30 L382.28,613.30 L383.20,613.30 L384.13,613.30 L385.05,613.30 L385.98,613.30 L386.90,613.30 L387.82,613.30 L388.75,613.30 L389.67,613.30 L390.60,613.30 L391.52,613.30 L392.44,613.30 L393.37,613.30 L394.29,613.30 L395.21,613.30 L396.14,613.30 L397.06,613.30 L397.99,613.30 L398.91,613.30 L399.83,613.30 L400.76,613.30 L401.68,613.30 L402.61,613.30 L403.53,613.30 L404.45,613.30 L405.38,613.30 L406.30,613.30 L407.22,613.30 L408.15,613.30 L409.07,613.30 L410.00,613.30 L410.92,613.30 L411.84,613.30 L412.77,613.30 L413.69,613.30 L414.62,613.30 L415.54,613.30 L416.46,613.30 L417.39,613.30 L418.31,613.30 L419.23,613.30 L420.16,613.30 L421.08,613.30 L422.01,613.30 L422.93,613.30 L423.85,613.30 L424.78,613.30 L425.70,613.30 L426.63,613.30 L427.55,613.30 L428.47,613.30 L429.40,613.30 L430.32,613.30 L431.24,613.30 L432.17,613.30 L433.09,613.30 L434.02,613.30 L434.94,613.30 L435.86,613.30 L436.79,613.30 L437.71,613.30 L438.64,613.30 L439.56,613.30 L440.48,613.30 L441.41,613.30 L442.33,613.30 L443.25,613.30 L444.18,613.30 L445.10,613.30 L446.03,613.30 L446.95,613.30 L447.87,613.30 L448.80,613.30 L449.72,613.30 L450.65,613.30 L451.57,613.30 L452.49,613.30 L453.42,613.30 L454.34,613.30 L455.26,613.30 L456.19,613.30 L457.11,613.30 L458.04,613.30 L458.96,613.30 L459.88,613.30 L460.81,613.30 L461.73,613.30 L462.66,613.30 L463.58,613.30 L464.50,613.30 L465.43,613.30 L466.35,613.30 L467.27,613.30 L468.20,613.30 L469.12,613.30 L470.05,613.30 L470.97,613.30 L471.89,613.30 L472.82,613.30 L473.74,613.30 L474.67,613.30 L475.59,613.30 L476.51,613.30 L477.44,613.30 L478.36,613.30 L479.28,613.30 L480.21,613.30 L481.13,613.30 L482.06,613.30 L482.98,613.30 L483.90,613.30 L484.83,613.30 L485.75,613.30 L486.68,613.30 L487.60,613.30 L488.52,613.30 L489.45,613.30 L490.37,613.30 L491.29,613.30 L492.22,613.30 L493.14,613.30 L494.07,613.30 L494.99,613.30 L495.91,613.30 L496.84,613.30 L497.76,613.30 L498.69,613.30 L499.61,613.30 L500.53,613.30 L501.46,613.30 L502.38,613.30 L503.30,613.30 L504.23,613.30 L505.15,613.30 L506.08,613.30 L507.00,613.30" fill="none" stroke="#d62428" stroke-width="1.8" stroke-linejoin="round" stroke-linecap="butt" />
<path d="M46.00,613.30 L46.92,613.30 L47.85,613.30 L48.77,613.30 L49.70,613.30 L50.62,613.30 L51.54,613.30 L52.47,613.30 L53.39,613.30 L54.31,613.30 L55.24,613.30 L56.16,613.30 L57.09,613.30 L58.01,613.30 L58.93,613.30 L59.86,613.30 L60.78,613.30 L61.71,613.30 L62.63,613.30 L63.55,613.30 L64.48,613.30 L65.40,613.30 L66.32,613.30 L67.25,613.30 L68.17,613.30 L69.10,613.30 L70.02,613.30 L70.94,613.30 L71.87,613.30 L72.79,613.30 L73.72,613.30 L74.64,613.30 L75.56,613.30 L76.49,613.30 L77.41,613.30 L78.33,613.30 L79.26,613.30 L80.18,613.30 L81.11,613.30 L82.03,613.30 L82.95,613.30 L83.88,613.30 L84.80,613.30 L85.73,613.30 L86.65,613.30 L87.57,613.30 L88.50,613.30 L89.42,613.30 L90.34,613.30 L91.27,613.30 L92.19,613.30 L93.12,613.30 L94.04,613.30 L94.96,613.30 L95.89,613.30 L96.81,613.30 L97.74,613.30 L98.66,613.30 L99.58,613.30 L100.51,613.30 L101.43,613.30 L102.35,613.30 L103.28,613.30 L104.20,613.30 L105.13,613.30 L106.05,613.30 L106.97,613.30 L107.90,613.30 L108.82,613.30 L109.75,613.30 L110.67,613.30 L111.59,613.30 L112.52,613.30 L113.44,613.30 L114.36,613.30 L115.29,613.30 L116.21,613.30 L117.14,613.30 L118.06,613.30 L118.98,613.30 L119.91,613.30 L120.83,613.30 L121.76,613.30 L122.68,613.30 L123.60,613.30 L124.53,613.30 L125.45,613.30 L126.37,613.30 L127.30,613.30 L128.22,613.30 L129.15,613.30 L130.07,613.30 L130.99,613.30 L131.92,613.30 L132.84,613.30 L133.77,613.30 L134.69,613.30 L135.61,613.30 L136.54,613.30 L137.46,613.30 L138.38,613.30 L139.31,613.30 L140.23,613.30 L141.16,613.30 L142.08,613.30 L143.00,613.30 L143.93,613.30 L144.85,613.30 L145.78,613.30 L146.70,613.30 L147.62,613.30 L148.55,613.30 L149.47,613.30 L150.39,613.30 L151.32,613.30 L152.24,613.30 L153.17,613.30 L154.09,613.30 L155.01,613.30 L155.94,613.30 L156.86,613.30 L157.79,613.30 L158.71,613.30 L159.63,613.30 L160.56,613.30 L161.48,613.30 L162.40,613.30 L163.33,613.30 L164.25,613.30 L165.18,613.30 L166.10,613.30 L167.02,613.30 L167.95,613.30 L168.87,613.30 L169.80,613.30 L170.72,613.30 L171.64,613.30 L172.57,613.30 L173.49,613.30 L174.41,613.30 L175.34,613.30 L176.26,613.30 L177.19,613.30 L178.11,613.29 L179.03,613.29 L179.96,613.29 L180.88,613.29 L181.81,613.29 L182.73,613.28 L183.65,613.28 L184.58,613.28 L185.50,613.27 L186.42,613.27 L187.35,613.26 L188.27,613.25 L189.20,613.24 L190.12,613.23 L191.04,613.21 L191.97,613.20 L192.89,613.18 L193.82,613.15 L194.74,613.13 L195.66,613.09 L196.59,613.06 L197.51,613.01 L198.43,612.96 L199.36,612.90 L200.28,612.83 L201.21,612.75 L202.13,612.66 L203.05,612.56 L203.98,612.44 L204.90,612.30 L205.83,612.15 L206.75,611.98 L207.67,611.78 L208.60,611.55 L209.52,611.30 L210.44,611.02 L211.37,610.70 L212.29,610.35 L213.22,609.95 L214.14,609.52 L215.06,609.03 L215.99,608.50 L216.91,607.91 L217.84,607.26 L218.76,606.55 L219.68,605.77 L220.61,604.93 L221.53,604.01 L222.45,603.02 L223.38,601.95 L224.30,600.79 L225.23,599.55 L226.15,598.22 L227.07,596.81 L228.00,595.30 L228.92,593.70 L229.85,592.01 L230.77,590.23 L231.69,588.36 L232.62,586.40 L233.54,584.36 L234.46,582.23 L235.39,580.03 L236.31,577.75 L237.24,575.41 L238.16,573.01 L239.08,570.56 L240.01,568.06 L240.93,565.54 L241.86,562.99 L242.78,560.43 L243.70,557.88 L244.63,555.33 L245.55,552.81 L246.47,550.34 L247.40,547.91 L248.32,545.56 L249.25,543.28 L250.17,541.10 L251.09,539.02 L252.02,537.07 L252.94,535.25 L253.87,533.57 L254.79,532.06 L255.71,530.70 L256.64,529.53 L257.56,528.54 L258.48,527.73 L259.41,527.13 L260.33,526.72 L261.26,526.52 L262.18,526.53 L263.10,526.74 L264.03,527.15 L264.95,527.76 L265.88,528.57 L266.80,529.57 L267.72,530.75 L268.65,532.11 L269.57,533.64 L270.49,535.32 L271.42,537.14 L272.34,539.10 L273.27,541.18 L274.19,543.37 L275.11,545.65 L276.04,548.01 L276.96,550.43 L277.89,552.91 L278.81,555.43 L279.73,557.98 L280.66,560.53 L281.58,563.09 L282.51,565.64 L283.43,568.16 L284.35,570.66 L285.28,573.11 L286.20,575.50 L287.12,577.84 L288.05,580.12 L288.97,582.32 L289.90,584.44 L290.82,586.48 L291.74,588.44 L292.67,590.30 L293.59,592.08 L294.52,593.77 L295.44,595.36 L296.36,596.86 L297.29,598.28 L298.21,599.60 L299.13,600.84 L300.06,601.99 L300.98,603.06 L301.91,604.05 L302.83,604.96 L303.75,605.81 L304.68,606.58 L305.60,607.29 L306.53,607.93 L307.45,608.52 L308.37,609.05 L309.30,609.53 L310.22,609.97 L311.14,610.36 L312.07,610.71 L312.99,611.03 L313.92,611.31 L314.84,611.56 L315.76,611.79 L316.69,611.98 L317.61,612.16 L318.54,612.31 L319.46,612.45 L320.38,612.56 L321.31,612.67 L322.23,612.76 L323.15,612.84 L324.08,612.90 L325.00,612.96 L325.93,613.01 L326.85,613.06 L327.77,613.09 L328.70,613.13 L329.62,613.15 L330.55,613.18 L331.47,613.20 L332.39,613.21 L333.32,613.23 L334.24,613.24 L335.16,613.25 L336.09,613.26 L337.01,613.27 L337.94,613.27 L338.86,613.28 L339.78,613.28 L340.71,613.28 L341.63,613.29 L342.56,613.29 L343.48,613.29 L344.40,613.29 L345.33,613.29 L346.25,613.30 L347.17,613.30 L348.10,613.30 L349.02,613.30 L349.95,613.30 L350.87,613.30 L351.79,613.30 L352.72,613.30 L353.64,613.30 L354.57,613.30 L355.49,613.30 L356.41,613.30 L357.34,613.30 L358.26,613.30 L359.18,613.30 L360.11,613.30 L361.03,613.30 L361.96,613.30 L362.88,613.30 L363.80,613.30 L364.73,613.30 L365.65,613.30 L366.58,613.30 L367.50,613.30 L368.42,613.30 L369.35,613.30 L370.27,613.30 L371.19,613.30 L372.12,613.30 L373.04,613.30 L373.97,613.30 L374.89,613.30 L375.81,613.30 L376.74,613.30 L377.66,613.30 L378.59,613.30 L379.51,613.30 L380.43,613.30 L381.36,613.30 L382.28,613.30 L383.20,613.30 L384.13,613.30 L385.05,613.30 L385.98,613.30 L386.90,613.30 L387.82,613.30 L388.75,613.30 L389.67,613.30 L390.60,613.30 L391.52,613.30 L392.44,613.30 L393.37,613.30 L394.29,613.30 L395.21,613.30 L396.14,613.30 L397.06,613.30 L397.99,613.30 L398.91,613.30 L399.83,613.30 L400.76,613.30 L401.68,613.30 L402.61,613.30 L403.53,613.30 L404.45,613.30 L405.38,613.30 L406.30,613.30 L407.22,613.30 L408.15,613.30 L409.07,613.30 L410.00,613.30 L410.92,613.30 L411.84,613.30 L412.77,613.30 L413.69,613.30 L414.62,613.30 L415.54,613.30 L416.46,613.30 L417.39,613.30 L418.31,613.30 L419.23,613.30 L420.16,613.30 L421.08,613.30 L422.01,613.30 L422.93,613.30 L423.85,613.30 L424.78,613.30 L425.70,613.30 L426.63,613.30 L427.55,613.30 L428.47,613.30 L429.40,613.30 L430.32,613.30 L431.24,613.30 L432.17,613.30 L433.09,613.30 L434.02,613.30 L434.94,613.30 L435.86,613.30 L436.79,613.30 L437.71,613.30 L438.64,613.30 L439.56,613.30 L440.48,613.30 L441.41,613.30 L442.33,613.30 L443.25,613.30 L444.18,613.30 L445.10,613.30 L446.03,613.30 L446.95,613.30 L447.87,613.30 L448.80,613.30 L449.72,613.30 L450.65,613.30 L451.57,613.30 L452.49,613.30 L453.42,613.30 L454.34,613.30 L455.26,613.30 L456.19,613.30 L457.11,613.30 L458.04,613.30 L458.96,613.30 L459.88,613.30 L460.81,613.30 L461.73,613.30 L462.66,613.30 L463.58,613.30 L464.50,613.30 L465.43,613.30 L466.35,613.30 L467.27,613.30 L468.20,613.30 L469.12,613.30 L470.05,613.30 L470.97,613.30 L471.89,613.30 L472.82,613.30 L473.74,613.30 L474.67,613.30 L475.59,613.30 L476.51,613.30 L477.44,613.30 L478.36,613.30 L479.28,613.30 L480.21,613.30 L481.13,613.30 L482.06,613.30 L482.98,613.30 L483.90,613.30 L484.83,613.30 L485.75,613.30 L486.68,613.30 L487.60,613.30 L488.52,613.30 L489.45,613.30 L490.37,613.30 L491.29,613.30 L492.22,613.30 L493.14,613.30 L494.07,613.30 L494.99,613.30 L495.91,613.30 L496.84,613.30 L497.76,613.30 L498.69,613.30 L499.61,613.30 L500.53,613.30 L501.46,613.30 L502.38,613.30 L503.30,613.30 L504.23,613.30 L505.15,613.30 L506.08,613.30 L507.00,613.30" fill="none" stroke="#34d234" stroke-width="1.8" stroke-linejoin="round" stroke-linecap="butt" />
<path d="M46.00,613.30 L46.92,613.30 L47.85,613.30 L48.77,613.30 L49.70,613.30 L50.62,613.30 L51.54,613.30 L52.47,613.30 L53.39,613.30 L54.31,613.30 L55.24,613.30 L56.16,613.30 L57.09,613.30 L58.01,613.30 L58.93,613.30 L59.86,613.30 L60.78,613.30 L61.71,613.30 L62.63,613.30 L63.55,613.30 L64.48,613.30 L65.40,613.30 L66.32,613.30 L67.25,613.30 L68.17,613.30 L69.10,613.30 L70.02,613.30 L70.94,613.30 L71.87,613.30 L72.79,613.30 L73.72,613.30 L74.64,613.30 L75.56,613.30 L76.49,613.30 L77.41,613.30 L78.33,613.30 L79.26,613.30 L80.18,613.30 L81.11,613.30 L82.03,613.30 L82.95,613.30 L83.88,613.30 L84.80,613.30 L85.73,613.30 L86.65,613.30 L87.57,613.30 L88.50,613.30 L89.42,613.30 L90.34,613.30 L91.27,613.30 L92.19,613.30 L93.12,613.30 L94.04,613.30 L94.96,613.30 L95.89,613.30 L96.81,613.30 L97.74,613.30 L98.66,613.30 L99.58,613.30 L100.51,613.30 L101.43,613.30 L102.35,613.30 L103.28,613.30 L104.20,613.30 L105.13,613.30 L106.05,613.30 L106.97,613.30 L107.90,613.30 L108.82,613.30 L109.75,613.30 L110.67,613.30 L111.59,613.30 L112.52,613.30 L113.44,613.30 L114.36,613.30 L115.29,613.30 L116.21,613.30 L117.14,613.30 L118.06,613.30 L118.98,613.30 L119.91,613.30 L120.83,613.30 L121.76,613.30 L122.68,613.30 L123.60,613.30 L124.53,613.30 L125.45,613.30 L126.37,613.30 L127.30,613.30 L128.22,613.30 L129.15,613.30 L130.07,613.30 L130.99,613.30 L131.92,613.30 L132.84,613.30 L133.77,613.30 L134.69,613.30 L135.61,613.30 L136.54,613.30 L137.46,613.30 L138.38,613.30 L139.31,613.30 L140.23,613.30 L141.16,613.30 L142.08,613.30 L143.00,613.30 L143.93,613.30 L144.85,613.30 L145.78,613.30 L146.70,613.30 L147.62,613.30 L148.55,613.30 L149.47,613.30 L150.39,613.30 L151.32,613.30 L152.24,613.30 L153.17,613.30 L154.09,613.30 L155.01,613.30 L155.94,613.30 L156.86,613.30 L157.79,613.30 L158.71,613.30 L159.63,613.30 L160.56,613.30 L161.48,613.30 L162.40,613.30 L163.33,613.30 L164.25,613.30 L165.18,613.30 L166.10,613.30 L167.02,613.30 L167.95,613.30 L168.87,613.29 L169.80,613.29 L170.72,613.29 L171.64,613.29 L172.57,613.29 L173.49,613.29 L174.41,613.29 L175.34,613.29 L176.26,613.28 L177.19,613.28 L178.11,613.28 L179.03,613.27 L179.96,613.27 L180.88,613.27 L181.81,613.26 L182.73,613.26 L183.65,613.25 L184.58,613.24 L185.50,613.24 L186.42,613.23 L187.35,613.22 L188.27,613.21 L189.20,613.20 L190.12,613.18 L191.04,613.17 L191.97,613.15 L192.89,613.13 L193.82,613.11 L194.74,613.09 L195.66,613.06 L196.59,613.03 L197.51,613.00 L198.43,612.96 L199.36,612.92 L200.28,612.87 L201.21,612.82 L202.13,612.77 L203.05,612.71 L203.98,612.64 L204.90,612.56 L205.83,612.48 L206.75,612.39 L207.67,612.29 L208.60,612.18 L209.52,612.05 L210.44,611.92 L211.37,611.77 L212.29,611.61 L213.22,611.44 L214.14,611.25 L215.06,611.04 L215.99,610.81 L216.91,610.56 L217.84,610.29 L218.76,610.00 L219.68,609.68 L220.61,609.33 L221.53,608.96 L222.45,608.56 L223.38,608.12 L224.30,607.64 L225.23,607.13 L226.15,606.58 L227.07,605.99 L228.00,605.36 L228.92,604.67 L229.85,603.94 L230.77,603.15 L231.69,602.31 L232.62,601.41 L233.54,600.45 L234.46,599.43 L235.39,598.33 L236.31,597.17 L237.24,595.93 L238.16,594.62 L239.08,593.22 L240.01,591.75 L240.93,590.18 L241.86,588.53 L242.78,586.78 L243.70,584.94 L244.63,583.00 L245.55,580.96 L246.47,578.81 L247.40,576.56 L248.32,574.19 L249.25,571.72 L250.17,569.13 L251.09,566.42 L252.02,563.59 L252.94,560.65 L253.87,557.58 L254.79,554.40 L255.71,551.09 L256.64,547.65 L257.56,544.10 L258.48,540.42 L259.41,536.62 L260.33,532.70 L261.26,528.66 L262.18,524.51 L263.10,520.23 L264.03,515.85 L264.95,511.36 L265.88,506.77 L266.80,502.07 L267.72,497.28 L268.65,492.40 L269.57,487.43 L270.49,482.39 L271.42,477.27 L272.34,472.09 L273.27,466.86 L274.19,461.57 L275.11,456.25 L276.04,450.90 L276.96,445.52 L277.89,440.13 L278.81,434.75 L279.73,429.37 L280.66,424.01 L281.58,418.68 L282.51,413.40 L283.43,408.16 L284.35,403.00 L285.28,397.91 L286.20,392.91 L287.12,388.01 L288.05,383.22 L288.97,378.56 L289.90,374.03 L290.82,369.65 L291.74,365.42 L292.67,361.37 L293.59,357.49 L294.52,353.81 L295.44,350.33 L296.36,347.05 L297.29,343.99 L298.21,341.16 L299.13,338.57 L300.06,336.21 L300.98,334.10 L301.91,332.25 L302.83,330.66 L303.75,329.33 L304.68,328.27 L305.60,327.48 L306.53,326.96 L307.45,326.72 L308.37,326.75 L309.30,327.06 L310.22,327.64 L311.14,328.50 L312.07,329.62 L312.99,331.02 L313.92,332.67 L314.84,334.59 L315.76,336.75 L316.69,339.17 L317.61,341.82 L318.54,344.71 L319.46,347.82 L320.38,351.14 L321.31,354.68 L322.23,358.41 L323.15,362.33 L324.08,366.42 L325.00,370.68 L325.93,375.10 L326.85,379.66 L327.77,384.36 L328.70,389.17 L329.62,394.10 L330.55,399.12 L331.47,404.23 L332.39,409.41 L333.32,414.66 L334.24,419.96 L335.16,425.29 L336.09,430.66 L337.01,436.04 L337.94,441.43 L338.86,446.81 L339.78,452.18 L340.71,457.53 L341.63,462.85 L342.56,468.12 L343.48,473.34 L344.40,478.51 L345.33,483.60 L346.25,488.63 L347.17,493.58 L348.10,498.44 L349.02,503.21 L349.95,507.88 L350.87,512.45 L351.79,516.91 L352.72,521.27 L353.64,525.51 L354.57,529.64 L355.49,533.65 L356.41,537.54 L357.34,541.31 L358.26,544.96 L359.18,548.49 L360.11,551.89 L361.03,555.17 L361.96,558.33 L362.88,561.37 L363.80,564.28 L364.73,567.08 L365.65,569.76 L366.58,572.32 L367.50,574.77 L368.42,577.11 L369.35,579.34 L370.27,581.46 L371.19,583.48 L372.12,585.39 L373.04,587.21 L373.97,588.94 L374.89,590.57 L375.81,592.11 L376.74,593.57 L377.66,594.94 L378.59,596.24 L379.51,597.46 L380.43,598.60 L381.36,599.68 L382.28,600.69 L383.20,601.63 L384.13,602.52 L385.05,603.35 L385.98,604.12 L386.90,604.84 L387.82,605.51 L388.75,606.14 L389.67,606.72 L390.60,607.26 L391.52,607.76 L392.44,608.23 L393.37,608.66 L394.29,609.05 L395.21,609.42 L396.14,609.76 L397.06,610.07 L397.99,610.36 L398.91,610.62 L399.83,610.87 L400.76,611.09 L401.68,611.30 L402.61,611.48 L403.53,611.65 L404.45,611.81 L405.38,611.95 L406.30,612.08 L407.22,612.20 L408.15,612.31 L409.07,612.41 L410.00,612.50 L410.92,612.58 L411.84,612.65 L412.77,612.72 L413.69,612.78 L414.62,612.84 L415.54,612.88 L416.46,612.93 L417.39,612.97 L418.31,613.00 L419.23,613.04 L420.16,613.07 L421.08,613.09 L422.01,613.11 L422.93,613.14 L423.85,613.15 L424.78,613.17 L425.70,613.19 L426.63,613.20 L427.55,613.21 L428.47,613.22 L429.40,613.23 L430.32,613.24 L431.24,613.25 L432.17,613.25 L433.09,613.26 L434.02,613.26 L434.94,613.27 L435.86,613.27 L436.79,613.28 L437.71,613.28 L438.64,613.28 L439.56,613.28 L440.48,613.29 L441.41,613.29 L442.33,613.29 L443.25,613.29 L444.18,613.29 L445.10,613.29 L446.03,613.29 L446.95,613.29 L447.87,613.30 L448.80,613.30 L449.72,613.30 L450.65,613.30 L451.57,613.30 L452.49,613.30 L453.42,613.30 L454.34,613.30 L455.26,613.30 L456.19,613.30 L457.11,613.30 L458.04,613.30 L458.96,613.30 L459.88,613.30 L460.81,613.30 L461.73,613.30 L462.66,613.30 L463.58,613.30 L464.50,613.30 L465.43,613.30 L466.35,613.30 L467.27,613.30 L468.20,613.30 L469.12,613.30 L470.05,613.30 L470.97,613.30 L471.89,613.30 L472.82,613.30 L473.74,613.30 L474.67,613.30 L475.59,613.30 L476.51,613.30 L477.44,613.30 L478.36,613.30 L479.28,613.30 L480.21,613.30 L481.13,613.30 L482.06,613.30 L482.98,613.30 L483.90,613.30 L484.83,613.30 L485.75,613.30 L486.68,613.30 L487.60,613.30 L488.52,613.30 L489.45,613.30 L490.37,613.30 L491.29,613.30 L492.22,613.30 L493.14,613.30 L494.07,613.30 L494.99,613.30 L495.91,613.30 L496.84,613.30 L497.76,613.30 L498.69,613.30 L499.61,613.30 L500.53,613.30 L501.46,613.30 L502.38,613.30 L503.30,613.30 L504.23,613.30 L505.15,613.30 L506.08,613.30 L507.00,613.30" fill="none" stroke="#2414b8" stroke-width="1.8" stroke-linejoin="round" stroke-linecap="butt" />
<path d="M46.00,613.30 L46.92,613.30 L47.85,613.30 L48.77,613.30 L49.70,613.30 L50.62,613.30 L51.54,613.30 L52.47,613.30 L53.39,613.30 L54.31,613.30 L55.24,613.30 L56.16,613.30 L57.09,613.30 L58.01,613.30 L58.93,613.30 L59.86,613.30 L60.78,613.30 L61.71,613.30 L62.63,613.30 L63.55,613.30 L64.48,613.30 L65.40,613.30 L66.32,613.30 L67.25,613.30 L68.17,613.30 L69.10,613.30 L70.02,613.30 L70.94,613.30 L71.87,613.30 L72.79,613.30 L73.72,613.30 L74.64,613.30 L75.56,613.30 L76.49,613.30 L77.41,613.30 L78.33,613.30 L79.26,613.30 L80.18,613.30 L81.11,613.30 L82.03,613.30 L82.95,613.30 L83.88,613.30 L84.80,613.30 L85.73,613.30 L86.65,613.30 L87.57,613.30 L88.50,613.30 L89.42,613.30 L90.34,613.30 L91.27,613.30 L92.19,613.30 L93.12,613.30 L94.04,613.30 L94.96,613.30 L95.89,613.30 L96.81,613.30 L97.74,613.30 L98.66,613.30 L99.58,613.30 L100.51,613.30 L101.43,613.30 L102.35,613.30 L103.28,613.30 L104.20,613.30 L105.13,613.30 L106.05,613.30 L106.97,613.30 L107.90,613.30 L108.82,613.30 L109.75,613.30 L110.67,613.30 L111.59,613.30 L112.52,613.30 L113.44,613.30 L114.36,613.30 L115.29,613.30 L116.21,613.29 L117.14,613.29 L118.06,613.29 L118.98,613.29 L119.91,613.29 L120.83,613.29 L121.76,613.28 L122.68,613.28 L123.60,613.28 L124.53,613.27 L125.45,613.27 L126.37,613.26 L127.30,613.25 L128.22,613.24 L129.15,613.23 L130.07,613.22 L130.99,613.21 L131.92,613.20 L132.84,613.18 L133.77,613.16 L134.69,613.14 L135.61,613.11 L136.54,613.08 L137.46,613.05 L138.38,613.01 L139.31,612.97 L140.23,612.92 L141.16,612.87 L142.08,612.81 L143.00,612.74 L143.93,612.67 L144.85,612.58 L145.78,612.49 L146.70,612.39 L147.62,612.27 L148.55,612.14 L149.47,612.00 L150.39,611.85 L151.32,611.68 L152.24,611.50 L153.17,611.29 L154.09,611.07 L155.01,610.84 L155.94,610.58 L156.86,610.30 L157.79,609.99 L158.71,609.67 L159.63,609.32 L160.56,608.94 L161.48,608.54 L162.40,608.11 L163.33,607.66 L164.25,607.18 L165.18,606.67 L166.10,606.14 L167.02,605.57 L167.95,604.98 L168.87,604.36 L169.80,603.72 L170.72,603.05 L171.64,602.35 L172.57,601.63 L173.49,600.89 L174.41,600.13 L175.34,599.35 L176.26,598.55 L177.19,597.74 L178.11,596.92 L179.03,596.09 L179.96,595.25 L180.88,594.41 L181.81,593.57 L182.73,592.74 L183.65,591.91 L184.58,591.09 L185.50,590.29 L186.42,589.51 L187.35,588.74 L188.27,588.00 L189.20,587.30 L190.12,586.62 L191.04,585.97 L191.97,585.37 L192.89,584.80 L193.82,584.28 L194.74,583.80 L195.66,583.37 L196.59,582.98 L197.51,582.65 L198.43,582.36 L199.36,582.12 L200.28,581.92 L201.21,581.78 L202.13,581.68 L203.05,581.62 L203.98,581.60 L204.90,581.61 L205.83,581.66 L206.75,581.74 L207.67,581.84 L208.60,581.95 L209.52,582.08 L210.44,582.21 L211.37,582.34 L212.29,582.46 L213.22,582.55 L214.14,582.63 L215.06,582.67 L215.99,582.66 L216.91,582.60 L217.84,582.48 L218.76,582.29 L219.68,582.02 L220.61,581.66 L221.53,581.20 L222.45,580.64 L223.38,579.95 L224.30,579.15 L225.23,578.21 L226.15,577.14 L227.07,575.91 L228.00,574.54 L228.92,573.01 L229.85,571.32 L230.77,569.46 L231.69,567.43 L232.62,565.23 L233.54,562.85 L234.46,560.31 L235.39,557.59 L236.31,554.70 L237.24,551.65 L238.16,548.43 L239.08,545.05 L240.01,541.52 L240.93,537.85 L241.86,534.03 L242.78,530.09 L243.70,526.03 L244.63,521.86 L245.55,517.60 L246.47,513.24 L247.40,508.81 L248.32,504.32 L249.25,499.78 L250.17,495.20 L251.09,490.60 L252.02,485.98 L252.94,481.37 L253.87,476.76 L254.79,472.18 L255.71,467.62 L256.64,463.12 L257.56,458.66 L258.48,454.26 L259.41,449.92 L260.33,445.66 L261.26,441.48 L262.18,437.38 L263.10,433.36 L264.03,429.43 L264.95,425.59 L265.88,421.83 L266.80,418.16 L267.72,414.58 L268.65,411.08 L269.57,407.66 L270.49,404.31 L271.42,401.03 L272.34,397.82 L273.27,394.68 L274.19,391.59 L275.11,388.55 L276.04,385.57 L276.96,382.62 L277.89,379.72 L278.81,376.86 L279.73,374.03 L280.66,371.23 L281.58,368.46 L282.51,365.73 L283.43,363.02 L284.35,360.35 L285.28,357.71 L286.20,355.11 L287.12,352.55 L288.05,350.03 L288.97,347.57 L289.90,345.16 L290.82,342.82 L291.74,340.56 L292.67,338.37 L293.59,336.27 L294.52,334.28 L295.44,332.39 L296.36,330.61 L297.29,328.97 L298.21,327.46 L299.13,326.10 L300.06,324.90 L300.98,323.86 L301.91,323.00 L302.83,322.32 L303.75,321.84 L304.68,321.55 L305.60,321.46 L306.53,321.59 L307.45,321.94 L308.37,322.50 L309.30,323.30 L310.22,324.31 L311.14,325.56 L312.07,327.04 L312.99,328.75 L313.92,330.68 L314.84,332.85 L315.76,335.24 L316.69,337.85 L317.61,340.68 L318.54,343.72 L319.46,346.96 L320.38,350.41 L321.31,354.04 L322.23,357.86 L323.15,361.86 L324.08,366.03 L325.00,370.35 L325.93,374.82 L326.85,379.42 L327.77,384.15 L328.70,389.00 L329.62,393.95 L330.55,399.00 L331.47,404.13 L332.39,409.33 L333.32,414.59 L334.24,419.90 L335.16,425.24 L336.09,430.62 L337.01,436.01 L337.94,441.40 L338.86,446.79 L339.78,452.16 L340.71,457.52 L341.63,462.83 L342.56,468.11 L343.48,473.33 L344.40,478.50 L345.33,483.60 L346.25,488.63 L347.17,493.57 L348.10,498.43 L349.02,503.20 L349.95,507.88 L350.87,512.45 L351.79,516.91 L352.72,521.27 L353.64,525.51 L354.57,529.64 L355.49,533.65 L356.41,537.54 L357.34,541.31 L358.26,544.96 L359.18,548.49 L360.11,551.89 L361.03,555.17 L361.96,558.33 L362.88,561.37 L363.80,564.28 L364.73,567.08 L365.65,569.76 L366.58,572.32 L367.50,574.77 L368.42,577.11 L369.35,579.34 L370.27,581.46 L371.19,583.48 L372.12,585.39 L373.04,587.21 L373.97,588.94 L374.89,590.57 L375.81,592.11 L376.74,593.57 L377.66,594.94 L378.59,596.24 L379.51,597.46 L380.43,598.60 L381.36,599.68 L382.28,600.69 L383.20,601.63 L384.13,602.52 L385.05,603.35 L385.98,604.12 L386.90,604.84 L387.82,605.51 L388.75,606.14 L389.67,606.72 L390.60,607.26 L391.52,607.76 L392.44,608.23 L393.37,608.66 L394.29,609.05 L395.21,609.42 L396.14,609.76 L397.06,610.07 L397.99,610.36 L398.91,610.62 L399.83,610.87 L400.76,611.09 L401.68,611.30 L402.61,611.48 L403.53,611.65 L404.45,611.81 L405.38,611.95 L406.30,612.08 L407.22,612.20 L408.15,612.31 L409.07,612.41 L410.00,612.50 L410.92,612.58 L411.84,612.65 L412.77,612.72 L413.69,612.78 L414.62,612.84 L415.54,612.88 L416.46,612.93 L417.39,612.97 L418.31,613.00 L419.23,613.04 L420.16,613.07 L421.08,613.09 L422.01,613.11 L422.93,613.14 L423.85,613.15 L424.78,613.17 L425.70,613.19 L426.63,613.20 L427.55,613.21 L428.47,613.22 L429.40,613.23 L430.32,613.24 L431.24,613.25 L432.17,613.25 L433.09,613.26 L434.02,613.26 L434.94,613.27 L435.86,613.27 L436.79,613.28 L437.71,613.28 L438.64,613.28 L439.56,613.28 L440.48,613.29 L441.41,613.29 L442.33,613.29 L443.25,613.29 L444.18,613.29 L445.10,613.29 L446.03,613.29 L446.95,613.29 L447.87,613.30 L448.80,613.30 L449.72,613.30 L450.65,613.30 L451.57,613.30 L452.49,613.30 L453.42,613.30 L454.34,613.30 L455.26,613.30 L456.19,613.30 L457.11,613.30 L458.04,613.30 L458.96,613.30 L459.88,613.30 L460.81,613.30 L461.73,613.30 L462.66,613.30 L463.58,613.30 L464.50,613.30 L465.43,613.30 L466.35,613.30 L467.27,613.30 L468.20,613.30 L469.12,613.30 L470.05,613.30 L470.97,613.30 L471.89,613.30 L472.82,613.30 L473.74,613.30 L474.67,613.30 L475.59,613.30 L476.51,613.30 L477.44,613.30 L478.36,613.30 L479.28,613.30 L480.21,613.30 L481.13,613.30 L482.06,613.30 L482.98,613.30 L483.90,613.30 L484.83,613.30 L485.75,613.30 L486.68,613.30 L487.60,613.30 L488.52,613.30 L489.45,613.30 L490.37,613.30 L491.29,613.30 L492.22,613.30 L493.14,613.30 L494.07,613.30 L494.99,613.30 L495.91,613.30 L496.84,613.30 L497.76,613.30 L498.69,613.30 L499.61,613.30 L500.53,613.30 L501.46,613.30 L502.38,613.30 L503.30,613.30 L504.23,613.30 L505.15,613.30 L506.08,613.30 L507.00,613.30" fill="none" stroke="#2ee0e0" stroke-width="1.8" stroke-linejoin="round" stroke-linecap="butt" />
<path d="M46.00,901.00 L53.20,906.90 L60.40,910.40 L67.60,911.80 L74.80,910.40 L82.00,909.10 L89.20,907.70 L96.40,905.00 L103.60,905.80 L110.80,906.90 L118.00,903.70 L125.20,898.30 L132.40,895.10 L139.60,896.90 L146.80,890.80 L154.00,885.60 L161.20,884.80 L168.40,888.30 L175.60,883.50 L182.80,871.30 L190.00,859.10 L197.20,851.80 L204.40,851.00 L211.60,839.70 L218.80,818.70 L226.00,805.20 L233.20,799.00 L240.40,783.70 L247.60,772.90 L254.80,770.20 L262.00,760.40 L269.20,733.10 L276.40,710.80 L283.60,697.30 L290.80,682.50 L298.00,663.70 L305.20,640.30 L312.40,638.10 L319.60,648.90 L326.80,660.40 L334.00,669.60 L341.20,686.00 L348.40,712.10 L355.60,739.10 L362.80,772.30 L370.00,802.80 L377.20,828.10 L384.40,845.20 L391.60,861.00 L398.80,876.90 L406.00,890.90 L413.20,903.10 L420.40,905.20 L427.60,902.00 L434.80,900.40 L442.00,911.10 L449.20,912.80 L456.40,914.10 L463.60,907.90 L470.80,907.90 L478.00,907.90 L485.20,911.40 L492.40,912.00 L499.60,912.50 L506.80,919.20" fill="none" stroke="#111" stroke-width="1.7"/>
<rect x="42.20" y="897.20" width="7.6" height="7.6" fill="#fff" stroke="#404040" stroke-width="1.2"/>
<rect x="49.40" y="903.10" width="7.6" height="7.6" fill="#fff" stroke="#404040" stroke-width="1.2"/>
<rect x="56.60" y="906.60" width="7.6" height="7.6" fill="#fff" stroke="#404040" stroke-width="1.2"/>
<rect x="63.80" y="908.00" width="7.6" height="7.6" fill="#fff" stroke="#404040" stroke-width="1.2"/>
<rect x="71.00" y="906.60" width="7.6" height="7.6" fill="#fff" stroke="#404040" stroke-width="1.2"/>
<rect x="78.20" y="905.30" width="7.6" height="7.6" fill="#fff" stroke="#404040" stroke-width="1.2"/>
<rect x="85.40" y="903.90" width="7.6" height="7.6" fill="#fff" stroke="#404040" stroke-width="1.2"/>
<rect x="92.60" y="901.20" width="7.6" height="7.6" fill="#fff" stroke="#404040" stroke-width="1.2"/>
<rect x="99.80" y="902.00" width="7.6" height="7.6" fill="#fff" stroke="#404040" stroke-width="1.2"/>
<rect x="107.00" y="903.10" width="7.6" height="7.6" fill="#fff" stroke="#404040" stroke-width="1.2"/>
<rect x="114.20" y="899.90" width="7.6" height="7.6" fill="#fff" stroke="#404040" stroke-width="1.2"/>
<rect x="121.40" y="894.50" width="7.6" height="7.6" fill="#fff" stroke="#404040" stroke-width="1.2"/>
<rect x="128.60" y="891.30" width="7.6" height="7.6" fill="#fff" stroke="#404040" stroke-width="1.2"/>
<rect x="135.80" y="893.10" width="7.6" height="7.6" fill="#fff" stroke="#404040" stroke-width="1.2"/>
<rect x="143.00" y="887.00" width="7.6" height="7.6" fill="#fff" stroke="#404040" stroke-width="1.2"/>
<rect x="150.20" y="881.80" width="7.6" height="7.6" fill="#fff" stroke="#404040" stroke-width="1.2"/>
<rect x="157.40" y="881.00" width="7.6" height="7.6" fill="#fff" stroke="#404040" stroke-width="1.2"/>
<rect x="164.60" y="884.50" width="7.6" height="7.6" fill="#fff" stroke="#404040" stroke-width="1.2"/>
<rect x="171.80" y="879.70" width="7.6" height="7.6" fill="#fff" stroke="#404040" stroke-width="1.2"/>
<rect x="179.00" y="867.50" width="7.6" height="7.6" fill="#fff" stroke="#404040" stroke-width="1.2"/>
<rect x="186.20" y="855.30" width="7.6" height="7.6" fill="#fff" stroke="#404040" stroke-width="1.2"/>
<rect x="193.40" y="848.00" width="7.6" height="7.6" fill="#fff" stroke="#404040" stroke-width="1.2"/>
<rect x="200.60" y="847.20" width="7.6" height="7.6" fill="#fff" stroke="#404040" stroke-width="1.2"/>
<rect x="207.80" y="835.90" width="7.6" height="7.6" fill="#fff" stroke="#404040" stroke-width="1.2"/>
<rect x="215.00" y="814.90" width="7.6" height="7.6" fill="#fff" stroke="#404040" stroke-width="1.2"/>
<rect x="222.20" y="801.40" width="7.6" height="7.6" fill="#fff" stroke="#404040" stroke-width="1.2"/>
<rect x="229.40" y="795.20" width="7.6" height="7.6" fill="#fff" stroke="#404040" stroke-width="1.2"/>
<rect x="236.60" y="779.90" width="7.6" height="7.6" fill="#fff" stroke="#404040" stroke-width="1.2"/>
<rect x="243.80" y="769.10" width="7.6" height="7.6" fill="#fff" stroke="#404040" stroke-width="1.2"/>
<rect x="251.00" y="766.40" width="7.6" height="7.6" fill="#fff" stroke="#404040" stroke-width="1.2"/>
<rect x="258.20" y="756.60" width="7.6" height="7.6" fill="#fff" stroke="#404040" stroke-width="1.2"/>
<rect x="265.40" y="729.30" width="7.6" height="7.6" fill="#fff" stroke="#404040" stroke-width="1.2"/>
<rect x="272.60" y="707.00" width="7.6" height="7.6" fill="#fff" stroke="#404040" stroke-width="1.2"/>
<rect x="279.80" y="693.50" width="7.6" height="7.6" fill="#fff" stroke="#404040" stroke-width="1.2"/>
<rect x="287.00" y="678.70" width="7.6" height="7.6" fill="#fff" stroke="#404040" stroke-width="1.2"/>
<rect x="294.20" y="659.90" width="7.6" height="7.6" fill="#fff" stroke="#404040" stroke-width="1.2"/>
<rect x="301.40" y="636.50" width="7.6" height="7.6" fill="#fff" stroke="#404040" stroke-width="1.2"/>
<rect x="308.60" y="634.30" width="7.6" height="7.6" fill="#fff" stroke="#404040" stroke-width="1.2"/>
<rect x="315.80" y="645.10" width="7.6" height="7.6" fill="#fff" stroke="#404040" stroke-width="1.2"/>
<rect x="323.00" y="656.60" width="7.6" height="7.6" fill="#fff" stroke="#404040" stroke-width="1.2"/>
<rect x="330.20" y="665.80" width="7.6" height="7.6" fill="#fff" stroke="#404040" stroke-width="1.2"/>
<rect x="337.40" y="682.20" width="7.6" height="7.6" fill="#fff" stroke="#404040" stroke-width="1.2"/>
<rect x="344.60" y="708.30" width="7.6" height="7.6" fill="#fff" stroke="#404040" stroke-width="1.2"/>
<rect x="351.80" y="735.30" width="7.6" height="7.6" fill="#fff" stroke="#404040" stroke-width="1.2"/>
<rect x="359.00" y="768.50" width="7.6" height="7.6" fill="#fff" stroke="#404040" stroke-width="1.2"/>
<rect x="366.20" y="799.00" width="7.6" height="7.6" fill="#fff" stroke="#404040" stroke-width="1.2"/>
<rect x="373.40" y="824.30" width="7.6" height="7.6" fill="#fff" stroke="#404040" stroke-width="1.2"/>
<rect x="380.60" y="841.40" width="7.6" height="7.6" fill="#fff" stroke="#404040" stroke-width="1.2"/>
<rect x="387.80" y="857.20" width="7.6" height="7.6" fill="#fff" stroke="#404040" stroke-width="1.2"/>
<rect x="395.00" y="873.10" width="7.6" height="7.6" fill="#fff" stroke="#404040" stroke-width="1.2"/>
<rect x="402.20" y="887.10" width="7.6" height="7.6" fill="#fff" stroke="#404040" stroke-width="1.2"/>
<rect x="409.40" y="899.30" width="7.6" height="7.6" fill="#fff" stroke="#404040" stroke-width="1.2"/>
<rect x="416.60" y="901.40" width="7.6" height="7.6" fill="#fff" stroke="#404040" stroke-width="1.2"/>
<rect x="423.80" y="898.20" width="7.6" height="7.6" fill="#fff" stroke="#404040" stroke-width="1.2"/>
<rect x="431.00" y="896.60" width="7.6" height="7.6" fill="#fff" stroke="#404040" stroke-width="1.2"/>
<rect x="438.20" y="907.30" width="7.6" height="7.6" fill="#fff" stroke="#404040" stroke-width="1.2"/>
<rect x="445.40" y="909.00" width="7.6" height="7.6" fill="#fff" stroke="#404040" stroke-width="1.2"/>
<rect x="452.60" y="910.30" width="7.6" height="7.6" fill="#fff" stroke="#404040" stroke-width="1.2"/>
<rect x="459.80" y="904.10" width="7.6" height="7.6" fill="#fff" stroke="#404040" stroke-width="1.2"/>
<rect x="467.00" y="904.10" width="7.6" height="7.6" fill="#fff" stroke="#404040" stroke-width="1.2"/>
<rect x="474.20" y="904.10" width="7.6" height="7.6" fill="#fff" stroke="#404040" stroke-width="1.2"/>
<rect x="481.40" y="907.60" width="7.6" height="7.6" fill="#fff" stroke="#404040" stroke-width="1.2"/>
<rect x="488.60" y="908.20" width="7.6" height="7.6" fill="#fff" stroke="#404040" stroke-width="1.2"/>
<rect x="495.80" y="908.70" width="7.6" height="7.6" fill="#fff" stroke="#404040" stroke-width="1.2"/>
<rect x="503.00" y="915.40" width="7.6" height="7.6" fill="#fff" stroke="#404040" stroke-width="1.2"/>
<path d="M110.50,908.97 L111.65,908.97 L112.81,908.97 L113.96,908.97 L115.11,908.97 L116.27,908.97 L117.42,908.97 L118.57,908.97 L119.73,908.97 L120.88,908.97 L122.04,908.97 L123.19,908.97 L124.34,908.97 L125.50,908.97 L126.65,908.97 L127.80,908.97 L128.96,908.97 L130.11,908.97 L131.26,908.97 L132.42,908.97 L133.57,908.97 L134.72,908.97 L135.88,908.97 L137.03,908.97 L138.18,908.97 L139.34,908.97 L140.49,908.97 L141.64,908.97 L142.80,908.97 L143.95,908.97 L145.11,908.97 L146.26,908.97 L147.41,908.97 L148.57,908.97 L149.72,908.97 L150.87,908.97 L152.03,908.97 L153.18,908.97 L154.33,908.96 L155.49,908.96 L156.64,908.96 L157.79,908.96 L158.95,908.96 L160.10,908.96 L161.25,908.96 L162.41,908.96 L163.56,908.95 L164.72,908.95 L165.87,908.95 L167.02,908.95 L168.18,908.94 L169.33,908.94 L170.48,908.94 L171.64,908.93 L172.79,908.93 L173.94,908.92 L175.10,908.91 L176.25,908.91 L177.40,908.90 L178.56,908.89 L179.71,908.88 L180.86,908.86 L182.02,908.85 L183.17,908.84 L184.32,908.82 L185.48,908.80 L186.63,908.78 L187.79,908.76 L188.94,908.73 L190.09,908.70 L191.25,908.67 L192.40,908.63 L193.55,908.59 L194.71,908.55 L195.86,908.50 L197.01,908.45 L198.17,908.39 L199.32,908.33 L200.47,908.25 L201.63,908.18 L202.78,908.09 L203.93,908.00 L205.09,907.89 L206.24,907.78 L207.39,907.66 L208.55,907.52 L209.70,907.37 L210.86,907.21 L212.01,907.04 L213.16,906.85 L214.32,906.64 L215.47,906.41 L216.62,906.17 L217.78,905.90 L218.93,905.62 L220.08,905.31 L221.24,904.98 L222.39,904.62 L223.54,904.23 L224.70,903.81 L225.85,903.36 L227.00,902.88 L228.16,902.36 L229.31,901.81 L230.47,901.22 L231.62,900.59 L232.77,899.91 L233.93,899.19 L235.08,898.42 L236.23,897.60 L237.39,896.73 L238.54,895.81 L239.69,894.83 L240.85,893.79 L242.00,892.70 L243.15,891.54 L244.31,890.31 L245.46,889.02 L246.61,887.66 L247.77,886.23 L248.92,884.73 L250.07,883.16 L251.23,881.50 L252.38,879.77 L253.54,877.97 L254.69,876.08 L255.84,874.11 L257.00,872.06 L258.15,869.92 L259.30,867.71 L260.46,865.41 L261.61,863.02 L262.76,860.55 L263.92,858.00 L265.07,855.37 L266.22,852.65 L267.38,849.86 L268.53,846.98 L269.68,844.03 L270.84,841.00 L271.99,837.91 L273.15,834.74 L274.30,831.51 L275.45,828.21 L276.61,824.86 L277.76,821.45 L278.91,818.00 L280.07,814.49 L281.22,810.95 L282.37,807.38 L283.53,803.77 L284.68,800.15 L285.83,796.50 L286.99,792.85 L288.14,789.20 L289.29,785.55 L290.45,781.92 L291.60,778.30 L292.75,774.71 L293.91,771.16 L295.06,767.64 L296.22,764.18 L297.37,760.78 L298.52,757.45 L299.68,754.19 L300.83,751.02 L301.98,747.93 L303.14,744.95 L304.29,742.07 L305.44,739.31 L306.60,736.66 L307.75,734.15 L308.90,731.77 L310.06,729.54 L311.21,727.45 L312.36,725.51 L313.52,723.74 L314.67,722.13 L315.83,720.68 L316.98,719.41 L318.13,718.32 L319.29,717.41 L320.44,716.68 L321.59,716.13 L322.75,715.77 L323.90,715.60 L325.05,715.61 L326.21,715.81 L327.36,716.20 L328.51,716.78 L329.67,717.53 L330.82,718.47 L331.97,719.59 L333.13,720.89 L334.28,722.36 L335.43,723.99 L336.59,725.79 L337.74,727.75 L338.90,729.86 L340.05,732.12 L341.20,734.52 L342.36,737.05 L343.51,739.71 L344.66,742.49 L345.82,745.39 L346.97,748.39 L348.12,751.49 L349.28,754.67 L350.43,757.94 L351.58,761.29 L352.74,764.70 L353.89,768.17 L355.04,771.69 L356.20,775.24 L357.35,778.84 L358.51,782.46 L359.66,786.10 L360.81,789.75 L361.97,793.40 L363.12,797.05 L364.27,800.69 L365.43,804.31 L366.58,807.91 L367.73,811.49 L368.89,815.02 L370.04,818.52 L371.19,821.97 L372.35,825.37 L373.50,828.71 L374.65,832.00 L375.81,835.22 L376.96,838.38 L378.11,841.46 L379.27,844.48 L380.42,847.42 L381.58,850.28 L382.73,853.06 L383.88,855.77 L385.04,858.39 L386.19,860.93 L387.34,863.38 L388.50,865.76 L389.65,868.04 L390.80,870.25 L391.96,872.37 L393.11,874.41 L394.26,876.37 L395.42,878.24 L396.57,880.04 L397.72,881.76 L398.88,883.40 L400.03,884.96 L401.18,886.45 L402.34,887.87 L403.49,889.22 L404.65,890.50 L405.80,891.72 L406.95,892.87 L408.11,893.95 L409.26,894.98 L410.41,895.95 L411.57,896.87 L412.72,897.73 L413.87,898.54 L415.03,899.30 L416.18,900.01 L417.33,900.68 L418.49,901.31 L419.64,901.90 L420.79,902.44 L421.95,902.96 L423.10,903.43 L424.26,903.88 L425.41,904.29 L426.56,904.67 L427.72,905.03 L428.87,905.36 L430.02,905.66 L431.18,905.95 L432.33,906.21 L433.48,906.45 L434.64,906.67 L435.79,906.88 L436.94,907.06 L438.10,907.24 L439.25,907.40 L440.40,907.54 L441.56,907.67 L442.71,907.80 L443.86,907.91 L445.02,908.01 L446.17,908.10 L447.33,908.19 L448.48,908.27 L449.63,908.34 L450.79,908.40 L451.94,908.46 L453.09,908.51 L454.25,908.56 L455.40,908.60" fill="none" stroke="#d62428" stroke-width="1.8" stroke-linejoin="round" stroke-linecap="butt" />
<path d="M110.50,905.78 L111.65,905.61 L112.81,905.42 L113.96,905.23 L115.11,905.03 L116.27,904.82 L117.42,904.61 L118.57,904.38 L119.73,904.14 L120.88,903.89 L122.04,903.63 L123.19,903.36 L124.34,903.08 L125.50,902.79 L126.65,902.48 L127.80,902.17 L128.96,901.84 L130.11,901.49 L131.26,901.14 L132.42,900.77 L133.57,900.39 L134.72,899.99 L135.88,899.57 L137.03,899.15 L138.18,898.70 L139.34,898.24 L140.49,897.77 L141.64,897.28 L142.80,896.77 L143.95,896.24 L145.11,895.70 L146.26,895.14 L147.41,894.56 L148.57,893.97 L149.72,893.35 L150.87,892.72 L152.03,892.07 L153.18,891.40 L154.33,890.71 L155.49,890.00 L156.64,889.27 L157.79,888.52 L158.95,887.75 L160.10,886.96 L161.25,886.15 L162.41,885.31 L163.56,884.46 L164.72,883.59 L165.87,882.70 L167.02,881.79 L168.18,880.85 L169.33,879.90 L170.48,878.93 L171.64,877.93 L172.79,876.92 L173.94,875.88 L175.10,874.83 L176.25,873.76 L177.40,872.66 L178.56,871.55 L179.71,870.42 L180.86,869.27 L182.02,868.11 L183.17,866.92 L184.32,865.72 L185.48,864.50 L186.63,863.27 L187.79,862.02 L188.94,860.76 L190.09,859.48 L191.25,858.19 L192.40,856.89 L193.55,855.57 L194.71,854.24 L195.86,852.90 L197.01,851.55 L198.17,850.20 L199.32,848.83 L200.47,847.46 L201.63,846.08 L202.78,844.70 L203.93,843.31 L205.09,841.92 L206.24,840.52 L207.39,839.13 L208.55,837.73 L209.70,836.34 L210.86,834.95 L212.01,833.56 L213.16,832.18 L214.32,830.80 L215.47,829.43 L216.62,828.07 L217.78,826.72 L218.93,825.38 L220.08,824.05 L221.24,822.73 L222.39,821.43 L223.54,820.15 L224.70,818.88 L225.85,817.63 L227.00,816.40 L228.16,815.19 L229.31,814.00 L230.47,812.84 L231.62,811.70 L232.77,810.59 L233.93,809.50 L235.08,808.44 L236.23,807.41 L237.39,806.42 L238.54,805.45 L239.69,804.52 L240.85,803.62 L242.00,802.75 L243.15,801.92 L244.31,801.13 L245.46,800.37 L246.61,799.65 L247.77,798.97 L248.92,798.34 L250.07,797.74 L251.23,797.18 L252.38,796.67 L253.54,796.20 L254.69,795.77 L255.84,795.38 L257.00,795.04 L258.15,794.75 L259.30,794.50 L260.46,794.29 L261.61,794.13 L262.76,794.02 L263.92,793.95 L265.07,793.93 L266.22,793.95 L267.38,794.02 L268.53,794.14 L269.68,794.30 L270.84,794.51 L271.99,794.76 L273.15,795.06 L274.30,795.40 L275.45,795.78 L276.61,796.21 L277.76,796.69 L278.91,797.20 L280.07,797.76 L281.22,798.36 L282.37,799.00 L283.53,799.68 L284.68,800.40 L285.83,801.15 L286.99,801.95 L288.14,802.78 L289.29,803.65 L290.45,804.55 L291.60,805.48 L292.75,806.45 L293.91,807.45 L295.06,808.48 L296.22,809.54 L297.37,810.63 L298.52,811.74 L299.68,812.88 L300.83,814.04 L301.98,815.23 L303.14,816.44 L304.29,817.67 L305.44,818.92 L306.60,820.19 L307.75,821.48 L308.90,822.78 L310.06,824.10 L311.21,825.43 L312.36,826.77 L313.52,828.12 L314.67,829.48 L315.83,830.85 L316.98,832.23 L318.13,833.61 L319.29,835.00 L320.44,836.39 L321.59,837.78 L322.75,839.18 L323.90,840.57 L325.05,841.97 L326.21,843.36 L327.36,844.75 L328.51,846.13 L329.67,847.51 L330.82,848.88 L331.97,850.24 L333.13,851.60 L334.28,852.95 L335.43,854.29 L336.59,855.62 L337.74,856.93 L338.90,858.24 L340.05,859.53 L341.20,860.80 L342.36,862.07 L343.51,863.32 L344.66,864.55 L345.82,865.77 L346.97,866.97 L348.12,868.15 L349.28,869.31 L350.43,870.46 L351.58,871.59 L352.74,872.70 L353.89,873.79 L355.04,874.87 L356.20,875.92 L357.35,876.95 L358.51,877.97 L359.66,878.96 L360.81,879.93 L361.97,880.89 L363.12,881.82 L364.27,882.73 L365.43,883.62 L366.58,884.49 L367.73,885.34 L368.89,886.17 L370.04,886.98 L371.19,887.77 L372.35,888.54 L373.50,889.29 L374.65,890.02 L375.81,890.73 L376.96,891.42 L378.11,892.09 L379.27,892.74 L380.42,893.37 L381.58,893.99 L382.73,894.58 L383.88,895.16 L385.04,895.72 L386.19,896.26 L387.34,896.79 L388.50,897.30 L389.65,897.79 L390.80,898.26 L391.96,898.72 L393.11,899.16 L394.26,899.59 L395.42,900.00 L396.57,900.40 L397.72,900.78 L398.88,901.15 L400.03,901.51 L401.18,901.85 L402.34,902.18 L403.49,902.50 L404.65,902.80 L405.80,903.09 L406.95,903.37 L408.11,903.64 L409.26,903.90 L410.41,904.15 L411.57,904.39 L412.72,904.61 L413.87,904.83 L415.03,905.04 L416.18,905.24 L417.33,905.43 L418.49,905.61 L419.64,905.79 L420.79,905.95 L421.95,906.11 L423.10,906.27 L424.26,906.41 L425.41,906.55 L426.56,906.68 L427.72,906.80 L428.87,906.92 L430.02,907.04 L431.18,907.14 L432.33,907.25 L433.48,907.34 L434.64,907.44 L435.79,907.52 L436.94,907.61 L438.10,907.69 L439.25,907.76 L440.40,907.83 L441.56,907.90 L442.71,907.96 L443.86,908.02 L445.02,908.08 L446.17,908.13 L447.33,908.19 L448.48,908.23 L449.63,908.28 L450.79,908.32 L451.94,908.36 L453.09,908.40 L454.25,908.44 L455.40,908.47" fill="none" stroke="#34d234" stroke-width="1.8" stroke-linejoin="round" stroke-linecap="butt" />
<path d="M110.50,905.78 L111.65,905.61 L112.81,905.42 L113.96,905.23 L115.11,905.03 L116.27,904.82 L117.42,904.61 L118.57,904.38 L119.73,904.14 L120.88,903.89 L122.04,903.63 L123.19,903.36 L124.34,903.08 L125.50,902.79 L126.65,902.48 L127.80,902.17 L128.96,901.84 L130.11,901.49 L131.26,901.14 L132.42,900.77 L133.57,900.38 L134.72,899.99 L135.88,899.57 L137.03,899.15 L138.18,898.70 L139.34,898.24 L140.49,897.77 L141.64,897.28 L142.80,896.77 L143.95,896.24 L145.11,895.70 L146.26,895.14 L147.41,894.56 L148.57,893.96 L149.72,893.35 L150.87,892.72 L152.03,892.06 L153.18,891.39 L154.33,890.70 L155.49,889.99 L156.64,889.26 L157.79,888.51 L158.95,887.74 L160.10,886.95 L161.25,886.13 L162.41,885.30 L163.56,884.45 L164.72,883.57 L165.87,882.68 L167.02,881.76 L168.18,880.83 L169.33,879.87 L170.48,878.89 L171.64,877.89 L172.79,876.87 L173.94,875.83 L175.10,874.77 L176.25,873.69 L177.40,872.59 L178.56,871.47 L179.71,870.33 L180.86,869.17 L182.02,867.99 L183.17,866.79 L184.32,865.57 L185.48,864.33 L186.63,863.08 L187.79,861.81 L188.94,860.52 L190.09,859.21 L191.25,857.89 L192.40,856.55 L193.55,855.19 L194.71,853.82 L195.86,852.43 L197.01,851.03 L198.17,849.62 L199.32,848.19 L200.47,846.74 L201.63,845.29 L202.78,843.82 L203.93,842.33 L205.09,840.84 L206.24,839.33 L207.39,837.81 L208.55,836.28 L209.70,834.74 L210.86,833.19 L212.01,831.63 L213.16,830.05 L214.32,828.47 L215.47,826.88 L216.62,825.27 L217.78,823.65 L218.93,822.03 L220.08,820.39 L221.24,818.74 L222.39,817.08 L223.54,815.41 L224.70,813.72 L225.85,812.02 L227.00,810.31 L228.16,808.58 L229.31,806.84 L230.47,805.09 L231.62,803.32 L232.77,801.53 L233.93,799.72 L235.08,797.89 L236.23,796.05 L237.39,794.18 L238.54,792.29 L239.69,790.38 L240.85,788.44 L242.00,786.48 L243.15,784.49 L244.31,782.47 L245.46,780.42 L246.61,778.35 L247.77,776.24 L248.92,774.10 L250.07,771.92 L251.23,769.72 L252.38,767.47 L253.54,765.19 L254.69,762.88 L255.84,760.52 L257.00,758.13 L258.15,755.70 L259.30,753.24 L260.46,750.73 L261.61,748.18 L262.76,745.60 L263.92,742.98 L265.07,740.33 L266.22,737.63 L267.38,734.91 L268.53,732.15 L269.68,729.36 L270.84,726.54 L271.99,723.70 L273.15,720.83 L274.30,717.94 L275.45,715.03 L276.61,712.10 L277.76,709.17 L278.91,706.23 L280.07,703.28 L281.22,700.34 L282.37,697.41 L283.53,694.48 L284.68,691.57 L285.83,688.69 L286.99,685.83 L288.14,683.01 L289.29,680.23 L290.45,677.49 L291.60,674.81 L292.75,672.19 L293.91,669.64 L295.06,667.15 L296.22,664.75 L297.37,662.44 L298.52,660.22 L299.68,658.10 L300.83,656.09 L301.98,654.20 L303.14,652.42 L304.29,650.77 L305.44,649.26 L306.60,647.89 L307.75,646.66 L308.90,645.58 L310.06,644.66 L311.21,643.90 L312.36,643.31 L313.52,642.89 L314.67,642.64 L315.83,642.57 L316.98,642.67 L318.13,642.96 L319.29,643.44 L320.44,644.10 L321.59,644.94 L322.75,645.98 L323.90,647.20 L325.05,648.61 L326.21,650.20 L327.36,651.98 L328.51,653.93 L329.67,656.07 L330.82,658.38 L331.97,660.87 L333.13,663.52 L334.28,666.34 L335.43,669.31 L336.59,672.44 L337.74,675.71 L338.90,679.13 L340.05,682.68 L341.20,686.35 L342.36,690.15 L343.51,694.06 L344.66,698.07 L345.82,702.18 L346.97,706.38 L348.12,710.67 L349.28,715.02 L350.43,719.44 L351.58,723.91 L352.74,728.43 L353.89,732.99 L355.04,737.58 L356.20,742.20 L357.35,746.82 L358.51,751.46 L359.66,756.09 L360.81,760.71 L361.97,765.32 L363.12,769.90 L364.27,774.45 L365.43,778.97 L366.58,783.44 L367.73,787.86 L368.89,792.23 L370.04,796.53 L371.19,800.77 L372.35,804.94 L373.50,809.03 L374.65,813.05 L375.81,816.98 L376.96,820.83 L378.11,824.58 L379.27,828.25 L380.42,831.82 L381.58,835.30 L382.73,838.68 L383.88,841.96 L385.04,845.14 L386.19,848.22 L387.34,851.20 L388.50,854.08 L389.65,856.86 L390.80,859.54 L391.96,862.12 L393.11,864.60 L394.26,866.99 L395.42,869.27 L396.57,871.47 L397.72,873.57 L398.88,875.58 L400.03,877.50 L401.18,879.33 L402.34,881.08 L403.49,882.75 L404.65,884.33 L405.80,885.84 L406.95,887.27 L408.11,888.63 L409.26,889.91 L410.41,891.13 L411.57,892.28 L412.72,893.37 L413.87,894.40 L415.03,895.37 L416.18,896.28 L417.33,897.14 L418.49,897.95 L419.64,898.71 L420.79,899.43 L421.95,900.10 L423.10,900.73 L424.26,901.32 L425.41,901.87 L426.56,902.38 L427.72,902.86 L428.87,903.31 L430.02,903.73 L431.18,904.12 L432.33,904.48 L433.48,904.82 L434.64,905.14 L435.79,905.43 L436.94,905.70 L438.10,905.95 L439.25,906.19 L440.40,906.40 L441.56,906.60 L442.71,906.79 L443.86,906.96 L445.02,907.12 L446.17,907.27 L447.33,907.40 L448.48,907.53 L449.63,907.64 L450.79,907.75 L451.94,907.85 L453.09,907.94 L454.25,908.02 L455.40,908.10" fill="none" stroke="#1c14a8" stroke-width="1.8" stroke-linejoin="round" stroke-linecap="butt" />
</g>
<rect x="46" y="0.3" width="461" height="996.2" fill="none" stroke="#111" stroke-width="1.5"/>
<line x1="46.00" y1="996.5" x2="46.00" y2="1003.5" stroke="#111" stroke-width="1.4"/>
<line x1="60.41" y1="996.5" x2="60.41" y2="1000.5" stroke="#111" stroke-width="1.4"/>
<line x1="74.81" y1="996.5" x2="74.81" y2="1000.5" stroke="#111" stroke-width="1.4"/>
<line x1="89.22" y1="996.5" x2="89.22" y2="1000.5" stroke="#111" stroke-width="1.4"/>
<line x1="103.62" y1="996.5" x2="103.62" y2="1003.5" stroke="#111" stroke-width="1.4"/>
<line x1="118.03" y1="996.5" x2="118.03" y2="1000.5" stroke="#111" stroke-width="1.4"/>
<line x1="132.44" y1="996.5" x2="132.44" y2="1000.5" stroke="#111" stroke-width="1.4"/>
<line x1="146.84" y1="996.5" x2="146.84" y2="1000.5" stroke="#111" stroke-width="1.4"/>
<line x1="161.25" y1="996.5" x2="161.25" y2="1003.5" stroke="#111" stroke-width="1.4"/>
<line x1="175.66" y1="996.5" x2="175.66" y2="1000.5" stroke="#111" stroke-width="1.4"/>
<line x1="190.06" y1="996.5" x2="190.06" y2="1000.5" stroke="#111" stroke-width="1.4"/>
<line x1="204.47" y1="996.5" x2="204.47" y2="1000.5" stroke="#111" stroke-width="1.4"/>
<line x1="218.88" y1="996.5" x2="218.88" y2="1003.5" stroke="#111" stroke-width="1.4"/>
<line x1="233.28" y1="996.5" x2="233.28" y2="1000.5" stroke="#111" stroke-width="1.4"/>
<line x1="247.69" y1="996.5" x2="247.69" y2="1000.5" stroke="#111" stroke-width="1.4"/>
<line x1="262.09" y1="996.5" x2="262.09" y2="1000.5" stroke="#111" stroke-width="1.4"/>
<line x1="276.50" y1="996.5" x2="276.50" y2="1003.5" stroke="#111" stroke-width="1.4"/>
<line x1="290.91" y1="996.5" x2="290.91" y2="1000.5" stroke="#111" stroke-width="1.4"/>
<line x1="305.31" y1="996.5" x2="305.31" y2="1000.5" stroke="#111" stroke-width="1.4"/>
<line x1="319.72" y1="996.5" x2="319.72" y2="1000.5" stroke="#111" stroke-width="1.4"/>
<line x1="334.12" y1="996.5" x2="334.12" y2="1003.5" stroke="#111" stroke-width="1.4"/>
<line x1="348.53" y1="996.5" x2="348.53" y2="1000.5" stroke="#111" stroke-width="1.4"/>
<line x1="362.94" y1="996.5" x2="362.94" y2="1000.5" stroke="#111" stroke-width="1.4"/>
<line x1="377.34" y1="996.5" x2="377.34" y2="1000.5" stroke="#111" stroke-width="1.4"/>
<line x1="391.75" y1="996.5" x2="391.75" y2="1003.5" stroke="#111" stroke-width="1.4"/>
<line x1="406.16" y1="996.5" x2="406.16" y2="1000.5" stroke="#111" stroke-width="1.4"/>
<line x1="420.56" y1="996.5" x2="420.56" y2="1000.5" stroke="#111" stroke-width="1.4"/>
<line x1="434.97" y1="996.5" x2="434.97" y2="1000.5" stroke="#111" stroke-width="1.4"/>
<line x1="449.38" y1="996.5" x2="449.38" y2="1003.5" stroke="#111" stroke-width="1.4"/>
<line x1="463.78" y1="996.5" x2="463.78" y2="1000.5" stroke="#111" stroke-width="1.4"/>
<line x1="478.19" y1="996.5" x2="478.19" y2="1000.5" stroke="#111" stroke-width="1.4"/>
<line x1="492.59" y1="996.5" x2="492.59" y2="1000.5" stroke="#111" stroke-width="1.4"/>
<line x1="507.00" y1="996.5" x2="507.00" y2="1003.5" stroke="#111" stroke-width="1.4"/>
<text transform="translate(46.00,1019.6) scale(1.04,1)" text-anchor="middle" class="tl">535</text>
<text transform="translate(103.62,1019.6) scale(1.04,1)" text-anchor="middle" class="tl">534</text>
<text transform="translate(161.25,1019.6) scale(1.04,1)" text-anchor="middle" class="tl">533</text>
<text transform="translate(218.88,1019.6) scale(1.04,1)" text-anchor="middle" class="tl">532</text>
<text transform="translate(276.50,1019.6) scale(1.04,1)" text-anchor="middle" class="tl">531</text>
<text transform="translate(334.12,1019.6) scale(1.04,1)" text-anchor="middle" class="tl">530</text>
<text transform="translate(391.75,1019.6) scale(1.04,1)" text-anchor="middle" class="tl">529</text>
<text transform="translate(449.38,1019.6) scale(1.04,1)" text-anchor="middle" class="tl">528</text>
<text transform="translate(507.00,1019.6) scale(1.04,1)" text-anchor="middle" class="tl">527</text>
<text x="85.5" y="82.8" class="big">S52</text>
<text x="85.5" y="447.7" class="big">S51</text>
<text x="85.5" y="747.4" class="big">S01</text>
<text x="224.3" y="179.6" class="lab">Ob</text>
<text x="271.0" y="171.0" class="lab">Oa</text>
<text x="294.1" y="405.0" class="lab">Oa</text>
<text x="254.0" y="580.4" class="lab">Ob</text>
<text x="185.8" y="604.7" class="lab">O<tspan font-size="14.5px" dx="0.8">c</tspan></text>
<text x="243.6" y="822.1" class="lab">Ob</text>
<text x="311.4" y="761.3" class="lab">Oa</text>
<text x="151.5" y="1055.2" class="ttl">Binding Energy (eV)</text>
<text transform="translate(23.5,515.5) rotate(-90)" class="ttl2">Intensity</text>
</svg>
</body></html>
